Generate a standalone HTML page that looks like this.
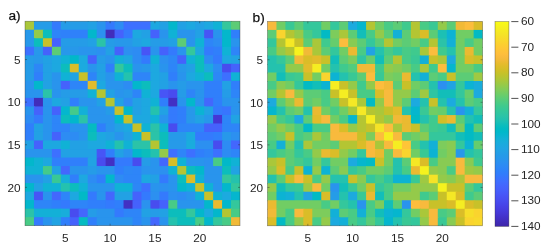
<!DOCTYPE html>
<html><head><meta charset="utf-8"><title>figure</title>
<style>
html,body{margin:0;padding:0;background:#fff;}
body{width:550px;height:251px;overflow:hidden;}
svg{display:block;}
.t{font-family:"Liberation Sans",sans-serif;font-size:11.8px;fill:#262626;}
.l{font-family:"Liberation Sans",sans-serif;font-size:13.7px;fill:#111;stroke:#111;stroke-width:0.25px;}
</style></head><body>
<svg width="550" height="251" viewBox="0 0 550 251">
<rect width="550" height="251" fill="#fff"/>
<text transform="translate(8.4 19.7)" class="l">a)</text>
<text transform="translate(252.6 21.6)" class="l">b)</text>
<g>
<rect x="25.00" y="21.20" width="9.96" height="9.52" fill="#aac73a"/>
<rect x="33.96" y="21.20" width="18.92" height="9.52" fill="#259ce7"/>
<rect x="51.88" y="21.20" width="9.96" height="9.52" fill="#347afd"/>
<rect x="60.83" y="21.20" width="27.88" height="9.52" fill="#259ce7"/>
<rect x="87.71" y="21.20" width="9.96" height="9.52" fill="#22a1e4"/>
<rect x="96.67" y="21.20" width="9.96" height="9.52" fill="#2994ed"/>
<rect x="105.62" y="21.20" width="9.96" height="9.52" fill="#347afd"/>
<rect x="114.58" y="21.20" width="9.96" height="9.52" fill="#2d8cf3"/>
<rect x="123.54" y="21.20" width="27.88" height="9.52" fill="#3d70ff"/>
<rect x="150.42" y="21.20" width="9.96" height="9.52" fill="#1da8e0"/>
<rect x="159.38" y="21.20" width="9.96" height="9.52" fill="#22a1e4"/>
<rect x="168.33" y="21.20" width="9.96" height="9.52" fill="#03b7cb"/>
<rect x="177.29" y="21.20" width="9.96" height="9.52" fill="#22a1e4"/>
<rect x="186.25" y="21.20" width="9.96" height="9.52" fill="#1da8e0"/>
<rect x="195.21" y="21.20" width="9.96" height="9.52" fill="#22a1e4"/>
<rect x="204.17" y="21.20" width="9.96" height="9.52" fill="#1da8e0"/>
<rect x="213.12" y="21.20" width="9.96" height="9.52" fill="#10b2d5"/>
<rect x="222.08" y="21.20" width="9.96" height="9.52" fill="#34c79c"/>
<rect x="231.04" y="21.20" width="8.96" height="9.52" fill="#5ccc76"/>
<rect x="25.00" y="29.72" width="9.96" height="9.52" fill="#2798ea"/>
<rect x="33.96" y="29.72" width="9.96" height="9.52" fill="#94ca4a"/>
<rect x="42.92" y="29.72" width="9.96" height="9.52" fill="#0cbdbc"/>
<rect x="51.88" y="29.72" width="9.96" height="9.52" fill="#2e85f8"/>
<rect x="60.83" y="29.72" width="27.88" height="9.52" fill="#2f81fa"/>
<rect x="87.71" y="29.72" width="9.96" height="9.52" fill="#03b7cb"/>
<rect x="96.67" y="29.72" width="9.96" height="9.52" fill="#2c90f0"/>
<rect x="105.62" y="29.72" width="9.96" height="9.52" fill="#412dbb"/>
<rect x="114.58" y="29.72" width="9.96" height="9.52" fill="#4562fc"/>
<rect x="123.54" y="29.72" width="9.96" height="9.52" fill="#347afd"/>
<rect x="132.50" y="29.72" width="9.96" height="9.52" fill="#1da8e0"/>
<rect x="141.46" y="29.72" width="9.96" height="9.52" fill="#22a1e4"/>
<rect x="150.42" y="29.72" width="9.96" height="9.52" fill="#4562fc"/>
<rect x="159.38" y="29.72" width="9.96" height="9.52" fill="#2994ed"/>
<rect x="168.33" y="29.72" width="9.96" height="9.52" fill="#10b2d5"/>
<rect x="177.29" y="29.72" width="18.92" height="9.52" fill="#2994ed"/>
<rect x="195.21" y="29.72" width="9.96" height="9.52" fill="#22a1e4"/>
<rect x="204.17" y="29.72" width="9.96" height="9.52" fill="#4755f6"/>
<rect x="213.12" y="29.72" width="9.96" height="9.52" fill="#2994ed"/>
<rect x="222.08" y="29.72" width="9.96" height="9.52" fill="#03b7cb"/>
<rect x="231.04" y="29.72" width="8.96" height="9.52" fill="#307ffb"/>
<rect x="25.00" y="38.24" width="9.96" height="9.52" fill="#2798ea"/>
<rect x="33.96" y="38.24" width="9.96" height="9.52" fill="#0cbdbc"/>
<rect x="42.92" y="38.24" width="9.96" height="9.52" fill="#c8c129"/>
<rect x="51.88" y="38.24" width="9.96" height="9.52" fill="#4562fc"/>
<rect x="60.83" y="38.24" width="27.88" height="9.52" fill="#259ce7"/>
<rect x="87.71" y="38.24" width="9.96" height="9.52" fill="#22a1e4"/>
<rect x="96.67" y="38.24" width="9.96" height="9.52" fill="#2bc3a8"/>
<rect x="105.62" y="38.24" width="9.96" height="9.52" fill="#259ce7"/>
<rect x="114.58" y="38.24" width="18.92" height="9.52" fill="#2798ea"/>
<rect x="132.50" y="38.24" width="9.96" height="9.52" fill="#22a1e4"/>
<rect x="141.46" y="38.24" width="9.96" height="9.52" fill="#1da8e0"/>
<rect x="150.42" y="38.24" width="18.92" height="9.52" fill="#259ce7"/>
<rect x="168.33" y="38.24" width="9.96" height="9.52" fill="#22a1e4"/>
<rect x="177.29" y="38.24" width="9.96" height="9.52" fill="#5ccc76"/>
<rect x="186.25" y="38.24" width="9.96" height="9.52" fill="#2994ed"/>
<rect x="195.21" y="38.24" width="9.96" height="9.52" fill="#10b2d5"/>
<rect x="204.17" y="38.24" width="9.96" height="9.52" fill="#2e85f8"/>
<rect x="213.12" y="38.24" width="9.96" height="9.52" fill="#2d8cf3"/>
<rect x="222.08" y="38.24" width="9.96" height="9.52" fill="#03b7cb"/>
<rect x="231.04" y="38.24" width="8.96" height="9.52" fill="#2994ed"/>
<rect x="25.00" y="46.76" width="9.96" height="9.52" fill="#3d70ff"/>
<rect x="33.96" y="46.76" width="9.96" height="9.52" fill="#2798ea"/>
<rect x="42.92" y="46.76" width="9.96" height="9.52" fill="#4562fc"/>
<rect x="51.88" y="46.76" width="9.96" height="9.52" fill="#5ccc76"/>
<rect x="60.83" y="46.76" width="18.92" height="9.52" fill="#2798ea"/>
<rect x="78.75" y="46.76" width="18.92" height="9.52" fill="#2994ed"/>
<rect x="96.67" y="46.76" width="9.96" height="9.52" fill="#2c90f0"/>
<rect x="105.62" y="46.76" width="9.96" height="9.52" fill="#22a1e4"/>
<rect x="114.58" y="46.76" width="9.96" height="9.52" fill="#4562fc"/>
<rect x="123.54" y="46.76" width="9.96" height="9.52" fill="#2c90f0"/>
<rect x="132.50" y="46.76" width="9.96" height="9.52" fill="#2d8cf3"/>
<rect x="141.46" y="46.76" width="9.96" height="9.52" fill="#4755f6"/>
<rect x="150.42" y="46.76" width="9.96" height="9.52" fill="#2994ed"/>
<rect x="159.38" y="46.76" width="9.96" height="9.52" fill="#4562fc"/>
<rect x="168.33" y="46.76" width="9.96" height="9.52" fill="#347afd"/>
<rect x="177.29" y="46.76" width="9.96" height="9.52" fill="#2994ed"/>
<rect x="186.25" y="46.76" width="9.96" height="9.52" fill="#34c79c"/>
<rect x="195.21" y="46.76" width="9.96" height="9.52" fill="#1da8e0"/>
<rect x="204.17" y="46.76" width="9.96" height="9.52" fill="#347afd"/>
<rect x="213.12" y="46.76" width="9.96" height="9.52" fill="#307ffb"/>
<rect x="222.08" y="46.76" width="9.96" height="9.52" fill="#10b2d5"/>
<rect x="231.04" y="46.76" width="8.96" height="9.52" fill="#2e85f8"/>
<rect x="25.00" y="55.28" width="9.96" height="9.52" fill="#259ce7"/>
<rect x="33.96" y="55.28" width="9.96" height="9.52" fill="#2798ea"/>
<rect x="42.92" y="55.28" width="9.96" height="9.52" fill="#22a1e4"/>
<rect x="51.88" y="55.28" width="9.96" height="9.52" fill="#1da8e0"/>
<rect x="60.83" y="55.28" width="9.96" height="9.52" fill="#10b2d5"/>
<rect x="69.79" y="55.28" width="9.96" height="9.52" fill="#01b8c9"/>
<rect x="78.75" y="55.28" width="9.96" height="9.52" fill="#1caadf"/>
<rect x="87.71" y="55.28" width="9.96" height="9.52" fill="#4562fc"/>
<rect x="96.67" y="55.28" width="9.96" height="9.52" fill="#259ce7"/>
<rect x="105.62" y="55.28" width="9.96" height="9.52" fill="#2994ed"/>
<rect x="114.58" y="55.28" width="9.96" height="9.52" fill="#13b0d7"/>
<rect x="123.54" y="55.28" width="9.96" height="9.52" fill="#1ea7e1"/>
<rect x="132.50" y="55.28" width="9.96" height="9.52" fill="#2d8cf3"/>
<rect x="141.46" y="55.28" width="9.96" height="9.52" fill="#347afd"/>
<rect x="150.42" y="55.28" width="9.96" height="9.52" fill="#10b2d5"/>
<rect x="159.38" y="55.28" width="9.96" height="9.52" fill="#2c90f0"/>
<rect x="168.33" y="55.28" width="9.96" height="9.52" fill="#2d87f6"/>
<rect x="177.29" y="55.28" width="9.96" height="9.52" fill="#4562fc"/>
<rect x="186.25" y="55.28" width="9.96" height="9.52" fill="#10b2d5"/>
<rect x="195.21" y="55.28" width="9.96" height="9.52" fill="#0cbdbc"/>
<rect x="204.17" y="55.28" width="9.96" height="9.52" fill="#2d8cf3"/>
<rect x="213.12" y="55.28" width="9.96" height="9.52" fill="#347afd"/>
<rect x="222.08" y="55.28" width="9.96" height="9.52" fill="#1da8e0"/>
<rect x="231.04" y="55.28" width="8.96" height="9.52" fill="#21a3e3"/>
<rect x="25.00" y="63.80" width="9.96" height="9.52" fill="#259ce7"/>
<rect x="33.96" y="63.80" width="9.96" height="9.52" fill="#2d87f6"/>
<rect x="42.92" y="63.80" width="9.96" height="9.52" fill="#22a1e4"/>
<rect x="51.88" y="63.80" width="9.96" height="9.52" fill="#1da8e0"/>
<rect x="60.83" y="63.80" width="9.96" height="9.52" fill="#0cbdbc"/>
<rect x="69.79" y="63.80" width="9.96" height="9.52" fill="#dabd28"/>
<rect x="78.75" y="63.80" width="9.96" height="9.52" fill="#1caadf"/>
<rect x="87.71" y="63.80" width="9.96" height="9.52" fill="#2994ed"/>
<rect x="96.67" y="63.80" width="9.96" height="9.52" fill="#22a1e4"/>
<rect x="105.62" y="63.80" width="9.96" height="9.52" fill="#307ffb"/>
<rect x="114.58" y="63.80" width="9.96" height="9.52" fill="#34c79c"/>
<rect x="123.54" y="63.80" width="9.96" height="9.52" fill="#0cbdbc"/>
<rect x="132.50" y="63.80" width="9.96" height="9.52" fill="#2994ed"/>
<rect x="141.46" y="63.80" width="9.96" height="9.52" fill="#2798ea"/>
<rect x="150.42" y="63.80" width="9.96" height="9.52" fill="#1da8e0"/>
<rect x="159.38" y="63.80" width="9.96" height="9.52" fill="#2994ed"/>
<rect x="168.33" y="63.80" width="9.96" height="9.52" fill="#2e85f8"/>
<rect x="177.29" y="63.80" width="9.96" height="9.52" fill="#2798ea"/>
<rect x="186.25" y="63.80" width="9.96" height="9.52" fill="#22a1e4"/>
<rect x="195.21" y="63.80" width="9.96" height="9.52" fill="#0cbdbc"/>
<rect x="204.17" y="63.80" width="9.96" height="9.52" fill="#1da8e0"/>
<rect x="213.12" y="63.80" width="9.96" height="9.52" fill="#2d8cf3"/>
<rect x="222.08" y="63.80" width="9.96" height="9.52" fill="#484cef"/>
<rect x="231.04" y="63.80" width="8.96" height="9.52" fill="#4562fc"/>
<rect x="25.00" y="72.33" width="9.96" height="9.52" fill="#259ce7"/>
<rect x="33.96" y="72.33" width="9.96" height="9.52" fill="#307ffb"/>
<rect x="42.92" y="72.33" width="9.96" height="9.52" fill="#22a1e4"/>
<rect x="51.88" y="72.33" width="9.96" height="9.52" fill="#2994ed"/>
<rect x="60.83" y="72.33" width="9.96" height="9.52" fill="#10b2d5"/>
<rect x="69.79" y="72.33" width="9.96" height="9.52" fill="#21a3e3"/>
<rect x="78.75" y="72.33" width="9.96" height="9.52" fill="#c8c129"/>
<rect x="87.71" y="72.33" width="9.96" height="9.52" fill="#2e85f8"/>
<rect x="96.67" y="72.33" width="9.96" height="9.52" fill="#22a1e4"/>
<rect x="105.62" y="72.33" width="9.96" height="9.52" fill="#2994ed"/>
<rect x="114.58" y="72.33" width="9.96" height="9.52" fill="#10b2d5"/>
<rect x="123.54" y="72.33" width="9.96" height="9.52" fill="#24c2ae"/>
<rect x="132.50" y="72.33" width="18.92" height="9.52" fill="#2e85f8"/>
<rect x="150.42" y="72.33" width="9.96" height="9.52" fill="#1da8e0"/>
<rect x="159.38" y="72.33" width="9.96" height="9.52" fill="#22a1e4"/>
<rect x="168.33" y="72.33" width="9.96" height="9.52" fill="#307ffb"/>
<rect x="177.29" y="72.33" width="9.96" height="9.52" fill="#2994ed"/>
<rect x="186.25" y="72.33" width="9.96" height="9.52" fill="#1da8e0"/>
<rect x="195.21" y="72.33" width="9.96" height="9.52" fill="#10b2d5"/>
<rect x="204.17" y="72.33" width="9.96" height="9.52" fill="#0cbdbc"/>
<rect x="213.12" y="72.33" width="9.96" height="9.52" fill="#2d87f6"/>
<rect x="222.08" y="72.33" width="9.96" height="9.52" fill="#3d70ff"/>
<rect x="231.04" y="72.33" width="8.96" height="9.52" fill="#10b2d5"/>
<rect x="25.00" y="80.85" width="9.96" height="9.52" fill="#2994ed"/>
<rect x="33.96" y="80.85" width="9.96" height="9.52" fill="#03b7cb"/>
<rect x="42.92" y="80.85" width="9.96" height="9.52" fill="#22a1e4"/>
<rect x="51.88" y="80.85" width="9.96" height="9.52" fill="#2994ed"/>
<rect x="60.83" y="80.85" width="9.96" height="9.52" fill="#4562fc"/>
<rect x="69.79" y="80.85" width="18.92" height="9.52" fill="#2e85f8"/>
<rect x="87.71" y="80.85" width="9.96" height="9.52" fill="#e2bc2b"/>
<rect x="96.67" y="80.85" width="9.96" height="9.52" fill="#1da8e0"/>
<rect x="105.62" y="80.85" width="18.92" height="9.52" fill="#2994ed"/>
<rect x="123.54" y="80.85" width="9.96" height="9.52" fill="#2d8cf3"/>
<rect x="132.50" y="80.85" width="9.96" height="9.52" fill="#03b7cb"/>
<rect x="141.46" y="80.85" width="9.96" height="9.52" fill="#0cbdbc"/>
<rect x="150.42" y="80.85" width="9.96" height="9.52" fill="#1da8e0"/>
<rect x="159.38" y="80.85" width="9.96" height="9.52" fill="#22a1e4"/>
<rect x="168.33" y="80.85" width="9.96" height="9.52" fill="#2994ed"/>
<rect x="177.29" y="80.85" width="9.96" height="9.52" fill="#259ce7"/>
<rect x="186.25" y="80.85" width="18.92" height="9.52" fill="#2994ed"/>
<rect x="204.17" y="80.85" width="18.92" height="9.52" fill="#307ffb"/>
<rect x="222.08" y="80.85" width="9.96" height="9.52" fill="#22a1e4"/>
<rect x="231.04" y="80.85" width="8.96" height="9.52" fill="#307ffb"/>
<rect x="25.00" y="89.37" width="18.92" height="9.52" fill="#2994ed"/>
<rect x="42.92" y="89.37" width="9.96" height="9.52" fill="#2bc3a8"/>
<rect x="51.88" y="89.37" width="9.96" height="9.52" fill="#2994ed"/>
<rect x="60.83" y="89.37" width="27.88" height="9.52" fill="#259ce7"/>
<rect x="87.71" y="89.37" width="9.96" height="9.52" fill="#10b2d5"/>
<rect x="96.67" y="89.37" width="9.96" height="9.52" fill="#b4c533"/>
<rect x="105.62" y="89.37" width="9.96" height="9.52" fill="#22a1e4"/>
<rect x="114.58" y="89.37" width="9.96" height="9.52" fill="#2994ed"/>
<rect x="123.54" y="89.37" width="9.96" height="9.52" fill="#2798ea"/>
<rect x="132.50" y="89.37" width="9.96" height="9.52" fill="#2e85f8"/>
<rect x="141.46" y="89.37" width="9.96" height="9.52" fill="#10b2d5"/>
<rect x="150.42" y="89.37" width="9.96" height="9.52" fill="#1da8e0"/>
<rect x="159.38" y="89.37" width="9.96" height="9.52" fill="#4755f6"/>
<rect x="168.33" y="89.37" width="9.96" height="9.52" fill="#484cef"/>
<rect x="177.29" y="89.37" width="9.96" height="9.52" fill="#259ce7"/>
<rect x="186.25" y="89.37" width="9.96" height="9.52" fill="#2e85f8"/>
<rect x="195.21" y="89.37" width="9.96" height="9.52" fill="#2994ed"/>
<rect x="204.17" y="89.37" width="18.92" height="9.52" fill="#307ffb"/>
<rect x="222.08" y="89.37" width="9.96" height="9.52" fill="#259ce7"/>
<rect x="231.04" y="89.37" width="8.96" height="9.52" fill="#2e85f8"/>
<rect x="25.00" y="97.89" width="9.96" height="9.52" fill="#3d70ff"/>
<rect x="33.96" y="97.89" width="9.96" height="9.52" fill="#412dbb"/>
<rect x="42.92" y="97.89" width="9.96" height="9.52" fill="#2994ed"/>
<rect x="51.88" y="97.89" width="9.96" height="9.52" fill="#1da8e0"/>
<rect x="60.83" y="97.89" width="9.96" height="9.52" fill="#22a1e4"/>
<rect x="69.79" y="97.89" width="9.96" height="9.52" fill="#307ffb"/>
<rect x="78.75" y="97.89" width="18.92" height="9.52" fill="#2994ed"/>
<rect x="96.67" y="97.89" width="9.96" height="9.52" fill="#22a1e4"/>
<rect x="105.62" y="97.89" width="9.96" height="9.52" fill="#b4c533"/>
<rect x="114.58" y="97.89" width="9.96" height="9.52" fill="#22a1e4"/>
<rect x="123.54" y="97.89" width="9.96" height="9.52" fill="#2d8cf3"/>
<rect x="132.50" y="97.89" width="9.96" height="9.52" fill="#22a1e4"/>
<rect x="141.46" y="97.89" width="9.96" height="9.52" fill="#1da8e0"/>
<rect x="150.42" y="97.89" width="9.96" height="9.52" fill="#10b2d5"/>
<rect x="159.38" y="97.89" width="9.96" height="9.52" fill="#307ffb"/>
<rect x="168.33" y="97.89" width="9.96" height="9.52" fill="#4230c4"/>
<rect x="177.29" y="97.89" width="9.96" height="9.52" fill="#2994ed"/>
<rect x="186.25" y="97.89" width="9.96" height="9.52" fill="#03b7cb"/>
<rect x="195.21" y="97.89" width="9.96" height="9.52" fill="#2994ed"/>
<rect x="204.17" y="97.89" width="9.96" height="9.52" fill="#4367fd"/>
<rect x="213.12" y="97.89" width="9.96" height="9.52" fill="#307ffb"/>
<rect x="222.08" y="97.89" width="17.92" height="9.52" fill="#2994ed"/>
<rect x="25.00" y="106.41" width="9.96" height="9.52" fill="#2994ed"/>
<rect x="33.96" y="106.41" width="9.96" height="9.52" fill="#4562fc"/>
<rect x="42.92" y="106.41" width="9.96" height="9.52" fill="#2994ed"/>
<rect x="51.88" y="106.41" width="9.96" height="9.52" fill="#4562fc"/>
<rect x="60.83" y="106.41" width="9.96" height="9.52" fill="#05b6ce"/>
<rect x="69.79" y="106.41" width="9.96" height="9.52" fill="#44ca8a"/>
<rect x="78.75" y="106.41" width="9.96" height="9.52" fill="#13b0d7"/>
<rect x="87.71" y="106.41" width="18.92" height="9.52" fill="#2994ed"/>
<rect x="105.62" y="106.41" width="9.96" height="9.52" fill="#259ce7"/>
<rect x="114.58" y="106.41" width="9.96" height="9.52" fill="#c8c129"/>
<rect x="123.54" y="106.41" width="9.96" height="9.52" fill="#03b7cb"/>
<rect x="132.50" y="106.41" width="9.96" height="9.52" fill="#22a1e4"/>
<rect x="141.46" y="106.41" width="9.96" height="9.52" fill="#1da8e0"/>
<rect x="150.42" y="106.41" width="9.96" height="9.52" fill="#24c2ae"/>
<rect x="159.38" y="106.41" width="9.96" height="9.52" fill="#22a1e4"/>
<rect x="168.33" y="106.41" width="9.96" height="9.52" fill="#347afd"/>
<rect x="177.29" y="106.41" width="9.96" height="9.52" fill="#307ffb"/>
<rect x="186.25" y="106.41" width="9.96" height="9.52" fill="#2798ea"/>
<rect x="195.21" y="106.41" width="9.96" height="9.52" fill="#0cb3d3"/>
<rect x="204.17" y="106.41" width="9.96" height="9.52" fill="#21a3e3"/>
<rect x="213.12" y="106.41" width="9.96" height="9.52" fill="#347afd"/>
<rect x="222.08" y="106.41" width="9.96" height="9.52" fill="#3875fe"/>
<rect x="231.04" y="106.41" width="8.96" height="9.52" fill="#2994ed"/>
<rect x="25.00" y="114.93" width="9.96" height="9.52" fill="#2d8cf3"/>
<rect x="33.96" y="114.93" width="9.96" height="9.52" fill="#347afd"/>
<rect x="42.92" y="114.93" width="9.96" height="9.52" fill="#2994ed"/>
<rect x="51.88" y="114.93" width="9.96" height="9.52" fill="#2e85f8"/>
<rect x="60.83" y="114.93" width="9.96" height="9.52" fill="#0cbdbc"/>
<rect x="69.79" y="114.93" width="9.96" height="9.52" fill="#03b7cb"/>
<rect x="78.75" y="114.93" width="9.96" height="9.52" fill="#2bc3a8"/>
<rect x="87.71" y="114.93" width="27.88" height="9.52" fill="#2994ed"/>
<rect x="114.58" y="114.93" width="9.96" height="9.52" fill="#03b7cb"/>
<rect x="123.54" y="114.93" width="9.96" height="9.52" fill="#c8c129"/>
<rect x="132.50" y="114.93" width="18.92" height="9.52" fill="#1da8e0"/>
<rect x="150.42" y="114.93" width="9.96" height="9.52" fill="#10b2d5"/>
<rect x="159.38" y="114.93" width="9.96" height="9.52" fill="#2994ed"/>
<rect x="168.33" y="114.93" width="9.96" height="9.52" fill="#347afd"/>
<rect x="177.29" y="114.93" width="9.96" height="9.52" fill="#307ffb"/>
<rect x="186.25" y="114.93" width="9.96" height="9.52" fill="#2798ea"/>
<rect x="195.21" y="114.93" width="9.96" height="9.52" fill="#21a3e3"/>
<rect x="204.17" y="114.93" width="9.96" height="9.52" fill="#2798ea"/>
<rect x="213.12" y="114.93" width="9.96" height="9.52" fill="#4536d5"/>
<rect x="222.08" y="114.93" width="9.96" height="9.52" fill="#2e85f8"/>
<rect x="231.04" y="114.93" width="8.96" height="9.52" fill="#21a3e3"/>
<rect x="25.00" y="123.45" width="9.96" height="9.52" fill="#307ffb"/>
<rect x="33.96" y="123.45" width="9.96" height="9.52" fill="#22a1e4"/>
<rect x="42.92" y="123.45" width="9.96" height="9.52" fill="#2994ed"/>
<rect x="51.88" y="123.45" width="18.92" height="9.52" fill="#2e85f8"/>
<rect x="69.79" y="123.45" width="18.92" height="9.52" fill="#2994ed"/>
<rect x="87.71" y="123.45" width="9.96" height="9.52" fill="#05bbc1"/>
<rect x="96.67" y="123.45" width="9.96" height="9.52" fill="#307ffb"/>
<rect x="105.62" y="123.45" width="9.96" height="9.52" fill="#2994ed"/>
<rect x="114.58" y="123.45" width="9.96" height="9.52" fill="#22a1e4"/>
<rect x="123.54" y="123.45" width="9.96" height="9.52" fill="#1da8e0"/>
<rect x="132.50" y="123.45" width="9.96" height="9.52" fill="#c8c129"/>
<rect x="141.46" y="123.45" width="9.96" height="9.52" fill="#10b2d5"/>
<rect x="150.42" y="123.45" width="9.96" height="9.52" fill="#2bc3a8"/>
<rect x="159.38" y="123.45" width="9.96" height="9.52" fill="#10b2d5"/>
<rect x="168.33" y="123.45" width="9.96" height="9.52" fill="#484cef"/>
<rect x="177.29" y="123.45" width="27.88" height="9.52" fill="#2e85f8"/>
<rect x="204.17" y="123.45" width="18.92" height="9.52" fill="#4562fc"/>
<rect x="222.08" y="123.45" width="17.92" height="9.52" fill="#2e85f8"/>
<rect x="25.00" y="131.97" width="9.96" height="9.52" fill="#307ffb"/>
<rect x="33.96" y="131.97" width="9.96" height="9.52" fill="#22a1e4"/>
<rect x="42.92" y="131.97" width="9.96" height="9.52" fill="#2994ed"/>
<rect x="51.88" y="131.97" width="9.96" height="9.52" fill="#4562fc"/>
<rect x="60.83" y="131.97" width="18.92" height="9.52" fill="#2d8cf3"/>
<rect x="78.75" y="131.97" width="9.96" height="9.52" fill="#2994ed"/>
<rect x="87.71" y="131.97" width="9.96" height="9.52" fill="#0cbdbc"/>
<rect x="96.67" y="131.97" width="9.96" height="9.52" fill="#1da8e0"/>
<rect x="105.62" y="131.97" width="9.96" height="9.52" fill="#22a1e4"/>
<rect x="114.58" y="131.97" width="9.96" height="9.52" fill="#2994ed"/>
<rect x="123.54" y="131.97" width="9.96" height="9.52" fill="#22a1e4"/>
<rect x="132.50" y="131.97" width="9.96" height="9.52" fill="#10b2d5"/>
<rect x="141.46" y="131.97" width="9.96" height="9.52" fill="#c8c129"/>
<rect x="150.42" y="131.97" width="9.96" height="9.52" fill="#2bc3a8"/>
<rect x="159.38" y="131.97" width="9.96" height="9.52" fill="#0cbdbc"/>
<rect x="168.33" y="131.97" width="18.92" height="9.52" fill="#269ae9"/>
<rect x="186.25" y="131.97" width="9.96" height="9.52" fill="#1caadf"/>
<rect x="195.21" y="131.97" width="18.92" height="9.52" fill="#347afd"/>
<rect x="213.12" y="131.97" width="9.96" height="9.52" fill="#307ffb"/>
<rect x="222.08" y="131.97" width="9.96" height="9.52" fill="#2798ea"/>
<rect x="231.04" y="131.97" width="8.96" height="9.52" fill="#2c90f0"/>
<rect x="25.00" y="140.49" width="9.96" height="9.52" fill="#22a1e4"/>
<rect x="33.96" y="140.49" width="9.96" height="9.52" fill="#4562fc"/>
<rect x="42.92" y="140.49" width="18.92" height="9.52" fill="#1da8e0"/>
<rect x="60.83" y="140.49" width="9.96" height="9.52" fill="#10b2d5"/>
<rect x="69.79" y="140.49" width="18.92" height="9.52" fill="#22a1e4"/>
<rect x="87.71" y="140.49" width="18.92" height="9.52" fill="#1da8e0"/>
<rect x="105.62" y="140.49" width="9.96" height="9.52" fill="#10b2d5"/>
<rect x="114.58" y="140.49" width="9.96" height="9.52" fill="#24c2ae"/>
<rect x="123.54" y="140.49" width="9.96" height="9.52" fill="#10b2d5"/>
<rect x="132.50" y="140.49" width="18.92" height="9.52" fill="#2bc3a8"/>
<rect x="150.42" y="140.49" width="9.96" height="9.52" fill="#b4c533"/>
<rect x="159.38" y="140.49" width="9.96" height="9.52" fill="#0cbdbc"/>
<rect x="168.33" y="140.49" width="18.92" height="9.52" fill="#269ae9"/>
<rect x="186.25" y="140.49" width="9.96" height="9.52" fill="#1aacdd"/>
<rect x="195.21" y="140.49" width="18.92" height="9.52" fill="#2c90f0"/>
<rect x="213.12" y="140.49" width="9.96" height="9.52" fill="#484cef"/>
<rect x="222.08" y="140.49" width="9.96" height="9.52" fill="#2d8cf3"/>
<rect x="231.04" y="140.49" width="8.96" height="9.52" fill="#4367fd"/>
<rect x="25.00" y="149.01" width="27.88" height="9.52" fill="#2994ed"/>
<rect x="51.88" y="149.01" width="9.96" height="9.52" fill="#3d70ff"/>
<rect x="60.83" y="149.01" width="36.83" height="9.52" fill="#22a1e4"/>
<rect x="96.67" y="149.01" width="9.96" height="9.52" fill="#4755f6"/>
<rect x="105.62" y="149.01" width="9.96" height="9.52" fill="#307ffb"/>
<rect x="114.58" y="149.01" width="9.96" height="9.52" fill="#22a1e4"/>
<rect x="123.54" y="149.01" width="9.96" height="9.52" fill="#2994ed"/>
<rect x="132.50" y="149.01" width="9.96" height="9.52" fill="#03b7cb"/>
<rect x="141.46" y="149.01" width="9.96" height="9.52" fill="#0cbdbc"/>
<rect x="150.42" y="149.01" width="9.96" height="9.52" fill="#24c2ae"/>
<rect x="159.38" y="149.01" width="9.96" height="9.52" fill="#94ca4a"/>
<rect x="168.33" y="149.01" width="9.96" height="9.52" fill="#3d70ff"/>
<rect x="177.29" y="149.01" width="9.96" height="9.52" fill="#2e85f8"/>
<rect x="186.25" y="149.01" width="9.96" height="9.52" fill="#3d70ff"/>
<rect x="195.21" y="149.01" width="9.96" height="9.52" fill="#307ffb"/>
<rect x="204.17" y="149.01" width="9.96" height="9.52" fill="#2e85f8"/>
<rect x="213.12" y="149.01" width="9.96" height="9.52" fill="#3d70ff"/>
<rect x="222.08" y="149.01" width="9.96" height="9.52" fill="#2d8cf3"/>
<rect x="231.04" y="149.01" width="8.96" height="9.52" fill="#2e85f8"/>
<rect x="25.00" y="157.53" width="9.96" height="9.52" fill="#03b7cb"/>
<rect x="33.96" y="157.53" width="9.96" height="9.52" fill="#10b2d5"/>
<rect x="42.92" y="157.53" width="9.96" height="9.52" fill="#1da8e0"/>
<rect x="51.88" y="157.53" width="36.83" height="9.52" fill="#307ffb"/>
<rect x="87.71" y="157.53" width="9.96" height="9.52" fill="#21a3e3"/>
<rect x="96.67" y="157.53" width="9.96" height="9.52" fill="#484cef"/>
<rect x="105.62" y="157.53" width="9.96" height="9.52" fill="#4230c4"/>
<rect x="114.58" y="157.53" width="18.92" height="9.52" fill="#347afd"/>
<rect x="132.50" y="157.53" width="9.96" height="9.52" fill="#484cef"/>
<rect x="141.46" y="157.53" width="9.96" height="9.52" fill="#259ce7"/>
<rect x="150.42" y="157.53" width="9.96" height="9.52" fill="#2994ed"/>
<rect x="159.38" y="157.53" width="9.96" height="9.52" fill="#4367fd"/>
<rect x="168.33" y="157.53" width="9.96" height="9.52" fill="#d6be28"/>
<rect x="177.29" y="157.53" width="9.96" height="9.52" fill="#10b2d5"/>
<rect x="186.25" y="157.53" width="18.92" height="9.52" fill="#2994ed"/>
<rect x="204.17" y="157.53" width="9.96" height="9.52" fill="#2c90f0"/>
<rect x="213.12" y="157.53" width="9.96" height="9.52" fill="#48cb86"/>
<rect x="222.08" y="157.53" width="9.96" height="9.52" fill="#01b8c9"/>
<rect x="231.04" y="157.53" width="8.96" height="9.52" fill="#10b2d5"/>
<rect x="25.00" y="166.05" width="18.92" height="9.52" fill="#10b2d5"/>
<rect x="42.92" y="166.05" width="9.96" height="9.52" fill="#44ca8a"/>
<rect x="51.88" y="166.05" width="9.96" height="9.52" fill="#22a1e4"/>
<rect x="60.83" y="166.05" width="9.96" height="9.52" fill="#4367fd"/>
<rect x="69.79" y="166.05" width="18.92" height="9.52" fill="#2994ed"/>
<rect x="87.71" y="166.05" width="9.96" height="9.52" fill="#259ce7"/>
<rect x="96.67" y="166.05" width="18.92" height="9.52" fill="#2994ed"/>
<rect x="114.58" y="166.05" width="9.96" height="9.52" fill="#307ffb"/>
<rect x="123.54" y="166.05" width="9.96" height="9.52" fill="#2d87f6"/>
<rect x="132.50" y="166.05" width="9.96" height="9.52" fill="#2e85f8"/>
<rect x="141.46" y="166.05" width="18.92" height="9.52" fill="#2994ed"/>
<rect x="159.38" y="166.05" width="9.96" height="9.52" fill="#2c90f0"/>
<rect x="168.33" y="166.05" width="9.96" height="9.52" fill="#10b2d5"/>
<rect x="177.29" y="166.05" width="9.96" height="9.52" fill="#b4c533"/>
<rect x="186.25" y="166.05" width="9.96" height="9.52" fill="#0cbdbc"/>
<rect x="195.21" y="166.05" width="9.96" height="9.52" fill="#03b7cb"/>
<rect x="204.17" y="166.05" width="18.92" height="9.52" fill="#2994ed"/>
<rect x="222.08" y="166.05" width="9.96" height="9.52" fill="#0cbdbc"/>
<rect x="231.04" y="166.05" width="8.96" height="9.52" fill="#21a3e3"/>
<rect x="25.00" y="174.57" width="18.92" height="9.52" fill="#2994ed"/>
<rect x="42.92" y="174.57" width="9.96" height="9.52" fill="#22a1e4"/>
<rect x="51.88" y="174.57" width="9.96" height="9.52" fill="#39c895"/>
<rect x="60.83" y="174.57" width="9.96" height="9.52" fill="#16afd9"/>
<rect x="69.79" y="174.57" width="9.96" height="9.52" fill="#307ffb"/>
<rect x="78.75" y="174.57" width="9.96" height="9.52" fill="#1da8e0"/>
<rect x="87.71" y="174.57" width="9.96" height="9.52" fill="#2d8cf3"/>
<rect x="96.67" y="174.57" width="9.96" height="9.52" fill="#307ffb"/>
<rect x="105.62" y="174.57" width="9.96" height="9.52" fill="#03b7cb"/>
<rect x="114.58" y="174.57" width="9.96" height="9.52" fill="#2d8cf3"/>
<rect x="123.54" y="174.57" width="18.92" height="9.52" fill="#2e85f8"/>
<rect x="141.46" y="174.57" width="9.96" height="9.52" fill="#1da8e0"/>
<rect x="150.42" y="174.57" width="9.96" height="9.52" fill="#22a1e4"/>
<rect x="159.38" y="174.57" width="9.96" height="9.52" fill="#347afd"/>
<rect x="168.33" y="174.57" width="9.96" height="9.52" fill="#2994ed"/>
<rect x="177.29" y="174.57" width="9.96" height="9.52" fill="#0cbdbc"/>
<rect x="186.25" y="174.57" width="9.96" height="9.52" fill="#dabd28"/>
<rect x="195.21" y="174.57" width="9.96" height="9.52" fill="#10b2d5"/>
<rect x="204.17" y="174.57" width="18.92" height="9.52" fill="#2994ed"/>
<rect x="222.08" y="174.57" width="9.96" height="9.52" fill="#34c79c"/>
<rect x="231.04" y="174.57" width="8.96" height="9.52" fill="#24c2ae"/>
<rect x="25.00" y="183.10" width="9.96" height="9.52" fill="#03b7cb"/>
<rect x="33.96" y="183.10" width="9.96" height="9.52" fill="#22a1e4"/>
<rect x="42.92" y="183.10" width="18.92" height="9.52" fill="#10b2d5"/>
<rect x="60.83" y="183.10" width="9.96" height="9.52" fill="#24c2ae"/>
<rect x="69.79" y="183.10" width="9.96" height="9.52" fill="#0cbdbc"/>
<rect x="78.75" y="183.10" width="9.96" height="9.52" fill="#10b2d5"/>
<rect x="87.71" y="183.10" width="27.88" height="9.52" fill="#2994ed"/>
<rect x="114.58" y="183.10" width="18.92" height="9.52" fill="#10b2d5"/>
<rect x="132.50" y="183.10" width="9.96" height="9.52" fill="#2d87f6"/>
<rect x="141.46" y="183.10" width="9.96" height="9.52" fill="#3d70ff"/>
<rect x="150.42" y="183.10" width="9.96" height="9.52" fill="#2994ed"/>
<rect x="159.38" y="183.10" width="9.96" height="9.52" fill="#2c90f0"/>
<rect x="168.33" y="183.10" width="9.96" height="9.52" fill="#2994ed"/>
<rect x="177.29" y="183.10" width="9.96" height="9.52" fill="#03b7cb"/>
<rect x="186.25" y="183.10" width="9.96" height="9.52" fill="#10b2d5"/>
<rect x="195.21" y="183.10" width="9.96" height="9.52" fill="#c8c129"/>
<rect x="204.17" y="183.10" width="9.96" height="9.52" fill="#10b2d5"/>
<rect x="213.12" y="183.10" width="9.96" height="9.52" fill="#2994ed"/>
<rect x="222.08" y="183.10" width="9.96" height="9.52" fill="#03b7cb"/>
<rect x="231.04" y="183.10" width="8.96" height="9.52" fill="#34c79c"/>
<rect x="25.00" y="191.62" width="9.96" height="9.52" fill="#1da8e0"/>
<rect x="33.96" y="191.62" width="9.96" height="9.52" fill="#4755f6"/>
<rect x="42.92" y="191.62" width="9.96" height="9.52" fill="#2994ed"/>
<rect x="51.88" y="191.62" width="9.96" height="9.52" fill="#4367fd"/>
<rect x="60.83" y="191.62" width="9.96" height="9.52" fill="#2e85f8"/>
<rect x="69.79" y="191.62" width="9.96" height="9.52" fill="#1da8e0"/>
<rect x="78.75" y="191.62" width="9.96" height="9.52" fill="#01b9c6"/>
<rect x="87.71" y="191.62" width="9.96" height="9.52" fill="#347afd"/>
<rect x="96.67" y="191.62" width="9.96" height="9.52" fill="#2994ed"/>
<rect x="105.62" y="191.62" width="9.96" height="9.52" fill="#4367fd"/>
<rect x="114.58" y="191.62" width="18.92" height="9.52" fill="#22a1e4"/>
<rect x="132.50" y="191.62" width="9.96" height="9.52" fill="#4562fc"/>
<rect x="141.46" y="191.62" width="9.96" height="9.52" fill="#347afd"/>
<rect x="150.42" y="191.62" width="9.96" height="9.52" fill="#2c90f0"/>
<rect x="159.38" y="191.62" width="9.96" height="9.52" fill="#347afd"/>
<rect x="168.33" y="191.62" width="9.96" height="9.52" fill="#2c90f0"/>
<rect x="177.29" y="191.62" width="9.96" height="9.52" fill="#2d8cf3"/>
<rect x="186.25" y="191.62" width="9.96" height="9.52" fill="#2994ed"/>
<rect x="195.21" y="191.62" width="9.96" height="9.52" fill="#10b2d5"/>
<rect x="204.17" y="191.62" width="9.96" height="9.52" fill="#c8c129"/>
<rect x="213.12" y="191.62" width="9.96" height="9.52" fill="#10b2d5"/>
<rect x="222.08" y="191.62" width="9.96" height="9.52" fill="#1caadf"/>
<rect x="231.04" y="191.62" width="8.96" height="9.52" fill="#05b6ce"/>
<rect x="25.00" y="200.14" width="9.96" height="9.52" fill="#03b7cb"/>
<rect x="33.96" y="200.14" width="18.92" height="9.52" fill="#2e85f8"/>
<rect x="51.88" y="200.14" width="9.96" height="9.52" fill="#307ffb"/>
<rect x="60.83" y="200.14" width="9.96" height="9.52" fill="#347afd"/>
<rect x="69.79" y="200.14" width="18.92" height="9.52" fill="#2e85f8"/>
<rect x="87.71" y="200.14" width="18.92" height="9.52" fill="#307ffb"/>
<rect x="105.62" y="200.14" width="9.96" height="9.52" fill="#347afd"/>
<rect x="114.58" y="200.14" width="9.96" height="9.52" fill="#307ffb"/>
<rect x="123.54" y="200.14" width="9.96" height="9.52" fill="#4230c4"/>
<rect x="132.50" y="200.14" width="9.96" height="9.52" fill="#4562fc"/>
<rect x="141.46" y="200.14" width="9.96" height="9.52" fill="#2b92ee"/>
<rect x="150.42" y="200.14" width="9.96" height="9.52" fill="#484cef"/>
<rect x="159.38" y="200.14" width="9.96" height="9.52" fill="#4562fc"/>
<rect x="168.33" y="200.14" width="9.96" height="9.52" fill="#48cb86"/>
<rect x="177.29" y="200.14" width="27.88" height="9.52" fill="#2994ed"/>
<rect x="204.17" y="200.14" width="9.96" height="9.52" fill="#03b7cb"/>
<rect x="213.12" y="200.14" width="9.96" height="9.52" fill="#eaba31"/>
<rect x="222.08" y="200.14" width="9.96" height="9.52" fill="#03b7cb"/>
<rect x="231.04" y="200.14" width="8.96" height="9.52" fill="#34c79c"/>
<rect x="25.00" y="208.66" width="9.96" height="9.52" fill="#2bc3a8"/>
<rect x="33.96" y="208.66" width="27.88" height="9.52" fill="#13b0d7"/>
<rect x="60.83" y="208.66" width="9.96" height="9.52" fill="#18addb"/>
<rect x="69.79" y="208.66" width="9.96" height="9.52" fill="#484cef"/>
<rect x="78.75" y="208.66" width="9.96" height="9.52" fill="#4367fd"/>
<rect x="87.71" y="208.66" width="9.96" height="9.52" fill="#259ce7"/>
<rect x="96.67" y="208.66" width="18.92" height="9.52" fill="#2994ed"/>
<rect x="114.58" y="208.66" width="9.96" height="9.52" fill="#347afd"/>
<rect x="123.54" y="208.66" width="18.92" height="9.52" fill="#2e85f8"/>
<rect x="141.46" y="208.66" width="9.96" height="9.52" fill="#22a1e4"/>
<rect x="150.42" y="208.66" width="9.96" height="9.52" fill="#259ce7"/>
<rect x="159.38" y="208.66" width="9.96" height="9.52" fill="#22a1e4"/>
<rect x="168.33" y="208.66" width="18.92" height="9.52" fill="#0cbdbc"/>
<rect x="186.25" y="208.66" width="9.96" height="9.52" fill="#34c79c"/>
<rect x="195.21" y="208.66" width="9.96" height="9.52" fill="#03b7cb"/>
<rect x="204.17" y="208.66" width="9.96" height="9.52" fill="#1caadf"/>
<rect x="213.12" y="208.66" width="9.96" height="9.52" fill="#03b7cb"/>
<rect x="222.08" y="208.66" width="9.96" height="9.52" fill="#b4c533"/>
<rect x="231.04" y="208.66" width="8.96" height="9.52" fill="#48cb86"/>
<rect x="25.00" y="217.18" width="9.96" height="8.52" fill="#48cb86"/>
<rect x="33.96" y="217.18" width="9.96" height="8.52" fill="#347afd"/>
<rect x="42.92" y="217.18" width="9.96" height="8.52" fill="#2994ed"/>
<rect x="51.88" y="217.18" width="9.96" height="8.52" fill="#21a3e3"/>
<rect x="60.83" y="217.18" width="9.96" height="8.52" fill="#307ffb"/>
<rect x="69.79" y="217.18" width="9.96" height="8.52" fill="#4562fc"/>
<rect x="78.75" y="217.18" width="9.96" height="8.52" fill="#05bbc1"/>
<rect x="87.71" y="217.18" width="9.96" height="8.52" fill="#307ffb"/>
<rect x="96.67" y="217.18" width="36.83" height="8.52" fill="#2994ed"/>
<rect x="132.50" y="217.18" width="9.96" height="8.52" fill="#2e85f8"/>
<rect x="141.46" y="217.18" width="9.96" height="8.52" fill="#2994ed"/>
<rect x="150.42" y="217.18" width="9.96" height="8.52" fill="#4367fd"/>
<rect x="159.38" y="217.18" width="9.96" height="8.52" fill="#2994ed"/>
<rect x="168.33" y="217.18" width="9.96" height="8.52" fill="#24c2ae"/>
<rect x="177.29" y="217.18" width="18.92" height="8.52" fill="#0cbdbc"/>
<rect x="195.21" y="217.18" width="9.96" height="8.52" fill="#48cb86"/>
<rect x="204.17" y="217.18" width="9.96" height="8.52" fill="#03b7cb"/>
<rect x="213.12" y="217.18" width="9.96" height="8.52" fill="#34c79c"/>
<rect x="222.08" y="217.18" width="9.96" height="8.52" fill="#48cb86"/>
<rect x="231.04" y="217.18" width="8.96" height="8.52" fill="#f1ba37"/>
</g>
<rect x="25.00" y="21.20" width="215.00" height="204.50" fill="none" stroke="#262626" stroke-opacity="0.55" stroke-width="0.6"/>
<path d="M65.31 225.70v-2 M65.31 21.20v2 M25.00 59.54h2 M240.00 59.54h-2" stroke="#262626" stroke-opacity="0.7" stroke-width="0.6" fill="none"/>
<text x="65.31" y="242.30" text-anchor="middle" class="t">5</text>
<text x="20.60" y="63.74" text-anchor="end" class="t">5</text>
<path d="M110.10 225.70v-2 M110.10 21.20v2 M25.00 102.15h2 M240.00 102.15h-2" stroke="#262626" stroke-opacity="0.7" stroke-width="0.6" fill="none"/>
<text x="110.10" y="242.30" text-anchor="middle" class="t">10</text>
<text x="20.60" y="106.35" text-anchor="end" class="t">10</text>
<path d="M154.90 225.70v-2 M154.90 21.20v2 M25.00 144.75h2 M240.00 144.75h-2" stroke="#262626" stroke-opacity="0.7" stroke-width="0.6" fill="none"/>
<text x="154.90" y="242.30" text-anchor="middle" class="t">15</text>
<text x="20.60" y="148.95" text-anchor="end" class="t">15</text>
<path d="M199.69 225.70v-2 M199.69 21.20v2 M25.00 187.36h2 M240.00 187.36h-2" stroke="#262626" stroke-opacity="0.7" stroke-width="0.6" fill="none"/>
<text x="199.69" y="242.30" text-anchor="middle" class="t">20</text>
<text x="20.60" y="191.56" text-anchor="end" class="t">20</text>
<g>
<rect x="267.50" y="21.40" width="9.96" height="9.52" fill="#f8ba3d"/>
<rect x="276.46" y="21.40" width="9.96" height="9.52" fill="#71cd64"/>
<rect x="285.43" y="21.40" width="9.96" height="9.52" fill="#39c895"/>
<rect x="294.39" y="21.40" width="9.96" height="9.52" fill="#5ccc76"/>
<rect x="303.35" y="21.40" width="18.93" height="9.52" fill="#34c79c"/>
<rect x="321.27" y="21.40" width="9.96" height="9.52" fill="#71cd64"/>
<rect x="330.24" y="21.40" width="9.96" height="9.52" fill="#34c79c"/>
<rect x="339.20" y="21.40" width="9.96" height="9.52" fill="#5ccc76"/>
<rect x="348.16" y="21.40" width="9.96" height="9.52" fill="#1caadf"/>
<rect x="357.12" y="21.40" width="9.96" height="9.52" fill="#05b6ce"/>
<rect x="366.09" y="21.40" width="9.96" height="9.52" fill="#b4c533"/>
<rect x="375.05" y="21.40" width="9.96" height="9.52" fill="#71cd64"/>
<rect x="384.01" y="21.40" width="9.96" height="9.52" fill="#48cb86"/>
<rect x="392.98" y="21.40" width="9.96" height="9.52" fill="#5ccc76"/>
<rect x="401.94" y="21.40" width="9.96" height="9.52" fill="#3fca8e"/>
<rect x="410.90" y="21.40" width="9.96" height="9.52" fill="#b4c533"/>
<rect x="419.86" y="21.40" width="9.96" height="9.52" fill="#48cb86"/>
<rect x="428.83" y="21.40" width="9.96" height="9.52" fill="#39c895"/>
<rect x="437.79" y="21.40" width="9.96" height="9.52" fill="#94ca4a"/>
<rect x="446.75" y="21.40" width="9.96" height="9.52" fill="#5ccc76"/>
<rect x="455.71" y="21.40" width="9.96" height="9.52" fill="#f1ba37"/>
<rect x="464.68" y="21.40" width="9.96" height="9.52" fill="#fcbd3d"/>
<rect x="473.64" y="21.40" width="8.96" height="9.52" fill="#dabd28"/>
<rect x="267.50" y="29.92" width="9.96" height="9.52" fill="#5ccc76"/>
<rect x="276.46" y="29.92" width="9.96" height="9.52" fill="#fad42e"/>
<rect x="285.43" y="29.92" width="9.96" height="9.52" fill="#b4c533"/>
<rect x="294.39" y="29.92" width="9.96" height="9.52" fill="#94ca4a"/>
<rect x="303.35" y="29.92" width="9.96" height="9.52" fill="#48cb86"/>
<rect x="312.31" y="29.92" width="9.96" height="9.52" fill="#34c79c"/>
<rect x="321.27" y="29.92" width="9.96" height="9.52" fill="#02bac4"/>
<rect x="330.24" y="29.92" width="9.96" height="9.52" fill="#7dcc5c"/>
<rect x="339.20" y="29.92" width="9.96" height="9.52" fill="#aac73a"/>
<rect x="348.16" y="29.92" width="9.96" height="9.52" fill="#5ccc76"/>
<rect x="357.12" y="29.92" width="9.96" height="9.52" fill="#12beb9"/>
<rect x="366.09" y="29.92" width="9.96" height="9.52" fill="#48cb86"/>
<rect x="375.05" y="29.92" width="9.96" height="9.52" fill="#94ca4a"/>
<rect x="384.01" y="29.92" width="9.96" height="9.52" fill="#5ccc76"/>
<rect x="392.98" y="29.92" width="9.96" height="9.52" fill="#13b0d7"/>
<rect x="401.94" y="29.92" width="9.96" height="9.52" fill="#5ccc76"/>
<rect x="410.90" y="29.92" width="9.96" height="9.52" fill="#b4c533"/>
<rect x="419.86" y="29.92" width="9.96" height="9.52" fill="#dabd28"/>
<rect x="428.83" y="29.92" width="9.96" height="9.52" fill="#5ccc76"/>
<rect x="437.79" y="29.92" width="9.96" height="9.52" fill="#1cc0b4"/>
<rect x="446.75" y="29.92" width="9.96" height="9.52" fill="#0cb3d3"/>
<rect x="455.71" y="29.92" width="18.93" height="9.52" fill="#71cd64"/>
<rect x="473.64" y="29.92" width="8.96" height="9.52" fill="#02bac4"/>
<rect x="267.50" y="38.43" width="9.96" height="9.52" fill="#34c79c"/>
<rect x="276.46" y="38.43" width="9.96" height="9.52" fill="#b4c533"/>
<rect x="285.43" y="38.43" width="9.96" height="9.52" fill="#f5e825"/>
<rect x="294.39" y="38.43" width="9.96" height="9.52" fill="#c8c129"/>
<rect x="303.35" y="38.43" width="9.96" height="9.52" fill="#5ccc76"/>
<rect x="312.31" y="38.43" width="9.96" height="9.52" fill="#aac73a"/>
<rect x="321.27" y="38.43" width="9.96" height="9.52" fill="#3fca8e"/>
<rect x="330.24" y="38.43" width="9.96" height="9.52" fill="#66cd6d"/>
<rect x="339.20" y="38.43" width="9.96" height="9.52" fill="#fcbd3d"/>
<rect x="348.16" y="38.43" width="9.96" height="9.52" fill="#88cb53"/>
<rect x="357.12" y="38.43" width="9.96" height="9.52" fill="#5ccc76"/>
<rect x="366.09" y="38.43" width="9.96" height="9.52" fill="#34c79c"/>
<rect x="375.05" y="38.43" width="9.96" height="9.52" fill="#5ccc76"/>
<rect x="384.01" y="38.43" width="9.96" height="9.52" fill="#b4c533"/>
<rect x="392.98" y="38.43" width="9.96" height="9.52" fill="#71cd64"/>
<rect x="401.94" y="38.43" width="9.96" height="9.52" fill="#5ccc76"/>
<rect x="410.90" y="38.43" width="9.96" height="9.52" fill="#71cd64"/>
<rect x="419.86" y="38.43" width="9.96" height="9.52" fill="#48cb86"/>
<rect x="428.83" y="38.43" width="9.96" height="9.52" fill="#b4c533"/>
<rect x="437.79" y="38.43" width="9.96" height="9.52" fill="#2bc3a8"/>
<rect x="446.75" y="38.43" width="9.96" height="9.52" fill="#13b0d7"/>
<rect x="455.71" y="38.43" width="9.96" height="9.52" fill="#71cd64"/>
<rect x="464.68" y="38.43" width="9.96" height="9.52" fill="#48cb86"/>
<rect x="473.64" y="38.43" width="8.96" height="9.52" fill="#71cd64"/>
<rect x="267.50" y="46.95" width="9.96" height="9.52" fill="#48cb86"/>
<rect x="276.46" y="46.95" width="9.96" height="9.52" fill="#94ca4a"/>
<rect x="285.43" y="46.95" width="9.96" height="9.52" fill="#b4c533"/>
<rect x="294.39" y="46.95" width="9.96" height="9.52" fill="#f6f21e"/>
<rect x="303.35" y="46.95" width="9.96" height="9.52" fill="#f1ba37"/>
<rect x="312.31" y="46.95" width="9.96" height="9.52" fill="#aac73a"/>
<rect x="321.27" y="46.95" width="9.96" height="9.52" fill="#5ccc76"/>
<rect x="330.24" y="46.95" width="9.96" height="9.52" fill="#34c79c"/>
<rect x="339.20" y="46.95" width="9.96" height="9.52" fill="#71cd64"/>
<rect x="348.16" y="46.95" width="9.96" height="9.52" fill="#eaba31"/>
<rect x="357.12" y="46.95" width="9.96" height="9.52" fill="#48cb86"/>
<rect x="366.09" y="46.95" width="9.96" height="9.52" fill="#21a3e3"/>
<rect x="375.05" y="46.95" width="9.96" height="9.52" fill="#24c2ae"/>
<rect x="384.01" y="46.95" width="9.96" height="9.52" fill="#48cb86"/>
<rect x="392.98" y="46.95" width="9.96" height="9.52" fill="#34c79c"/>
<rect x="401.94" y="46.95" width="9.96" height="9.52" fill="#48cb86"/>
<rect x="410.90" y="46.95" width="9.96" height="9.52" fill="#3fca8e"/>
<rect x="419.86" y="46.95" width="9.96" height="9.52" fill="#aac73a"/>
<rect x="428.83" y="46.95" width="9.96" height="9.52" fill="#fcbd3d"/>
<rect x="437.79" y="46.95" width="9.96" height="9.52" fill="#3fca8e"/>
<rect x="446.75" y="46.95" width="9.96" height="9.52" fill="#24c2ae"/>
<rect x="455.71" y="46.95" width="9.96" height="9.52" fill="#71cd64"/>
<rect x="464.68" y="46.95" width="9.96" height="9.52" fill="#eaba31"/>
<rect x="473.64" y="46.95" width="8.96" height="9.52" fill="#71cd64"/>
<rect x="267.50" y="55.47" width="9.96" height="9.52" fill="#24c2ae"/>
<rect x="276.46" y="55.47" width="9.96" height="9.52" fill="#34c79c"/>
<rect x="285.43" y="55.47" width="9.96" height="9.52" fill="#5ccc76"/>
<rect x="294.39" y="55.47" width="9.96" height="9.52" fill="#f1ba37"/>
<rect x="303.35" y="55.47" width="9.96" height="9.52" fill="#dabd28"/>
<rect x="312.31" y="55.47" width="9.96" height="9.52" fill="#e2bc2b"/>
<rect x="321.27" y="55.47" width="9.96" height="9.52" fill="#c8c129"/>
<rect x="330.24" y="55.47" width="9.96" height="9.52" fill="#12beb9"/>
<rect x="339.20" y="55.47" width="9.96" height="9.52" fill="#5ccc76"/>
<rect x="348.16" y="55.47" width="9.96" height="9.52" fill="#7dcc5c"/>
<rect x="357.12" y="55.47" width="9.96" height="9.52" fill="#2fc5a2"/>
<rect x="366.09" y="55.47" width="9.96" height="9.52" fill="#66cd6d"/>
<rect x="375.05" y="55.47" width="9.96" height="9.52" fill="#12beb9"/>
<rect x="384.01" y="55.47" width="9.96" height="9.52" fill="#5ccc76"/>
<rect x="392.98" y="55.47" width="9.96" height="9.52" fill="#b4c533"/>
<rect x="401.94" y="55.47" width="9.96" height="9.52" fill="#48cb86"/>
<rect x="410.90" y="55.47" width="9.96" height="9.52" fill="#39c895"/>
<rect x="419.86" y="55.47" width="9.96" height="9.52" fill="#13b0d7"/>
<rect x="428.83" y="55.47" width="9.96" height="9.52" fill="#c8c129"/>
<rect x="437.79" y="55.47" width="9.96" height="9.52" fill="#aac73a"/>
<rect x="446.75" y="55.47" width="9.96" height="9.52" fill="#1caadf"/>
<rect x="455.71" y="55.47" width="9.96" height="9.52" fill="#71cd64"/>
<rect x="464.68" y="55.47" width="9.96" height="9.52" fill="#dabd28"/>
<rect x="473.64" y="55.47" width="8.96" height="9.52" fill="#c8c129"/>
<rect x="267.50" y="63.98" width="18.93" height="9.52" fill="#24c2ae"/>
<rect x="285.43" y="63.98" width="18.93" height="9.52" fill="#94ca4a"/>
<rect x="303.35" y="63.98" width="9.96" height="9.52" fill="#e2bc2b"/>
<rect x="312.31" y="63.98" width="9.96" height="9.52" fill="#f5ed22"/>
<rect x="321.27" y="63.98" width="9.96" height="9.52" fill="#71cd64"/>
<rect x="330.24" y="63.98" width="9.96" height="9.52" fill="#24c2ae"/>
<rect x="339.20" y="63.98" width="9.96" height="9.52" fill="#3fca8e"/>
<rect x="348.16" y="63.98" width="9.96" height="9.52" fill="#52cc7e"/>
<rect x="357.12" y="63.98" width="18.93" height="9.52" fill="#f1ba37"/>
<rect x="375.05" y="63.98" width="9.96" height="9.52" fill="#3fca8e"/>
<rect x="384.01" y="63.98" width="9.96" height="9.52" fill="#94ca4a"/>
<rect x="392.98" y="63.98" width="9.96" height="9.52" fill="#88cb53"/>
<rect x="401.94" y="63.98" width="9.96" height="9.52" fill="#71cd64"/>
<rect x="410.90" y="63.98" width="9.96" height="9.52" fill="#48cb86"/>
<rect x="419.86" y="63.98" width="9.96" height="9.52" fill="#aac73a"/>
<rect x="428.83" y="63.98" width="9.96" height="9.52" fill="#3fca8e"/>
<rect x="437.79" y="63.98" width="9.96" height="9.52" fill="#fcbd3d"/>
<rect x="446.75" y="63.98" width="9.96" height="9.52" fill="#05b6ce"/>
<rect x="455.71" y="63.98" width="18.93" height="9.52" fill="#71cd64"/>
<rect x="473.64" y="63.98" width="8.96" height="9.52" fill="#48cb86"/>
<rect x="267.50" y="72.50" width="9.96" height="9.52" fill="#71cd64"/>
<rect x="276.46" y="72.50" width="9.96" height="9.52" fill="#12beb9"/>
<rect x="285.43" y="72.50" width="9.96" height="9.52" fill="#39c895"/>
<rect x="294.39" y="72.50" width="9.96" height="9.52" fill="#3fca8e"/>
<rect x="303.35" y="72.50" width="9.96" height="9.52" fill="#c8c129"/>
<rect x="312.31" y="72.50" width="9.96" height="9.52" fill="#71cd64"/>
<rect x="321.27" y="72.50" width="9.96" height="9.52" fill="#fad42e"/>
<rect x="330.24" y="72.50" width="9.96" height="9.52" fill="#0cb3d3"/>
<rect x="339.20" y="72.50" width="9.96" height="9.52" fill="#24c2ae"/>
<rect x="348.16" y="72.50" width="9.96" height="9.52" fill="#39c895"/>
<rect x="357.12" y="72.50" width="9.96" height="9.52" fill="#5ccc76"/>
<rect x="366.09" y="72.50" width="9.96" height="9.52" fill="#fcbd3d"/>
<rect x="375.05" y="72.50" width="9.96" height="9.52" fill="#39c895"/>
<rect x="384.01" y="72.50" width="9.96" height="9.52" fill="#7dcc5c"/>
<rect x="392.98" y="72.50" width="9.96" height="9.52" fill="#71cd64"/>
<rect x="401.94" y="72.50" width="9.96" height="9.52" fill="#eaba31"/>
<rect x="410.90" y="72.50" width="9.96" height="9.52" fill="#24c2ae"/>
<rect x="419.86" y="72.50" width="9.96" height="9.52" fill="#13b0d7"/>
<rect x="428.83" y="72.50" width="9.96" height="9.52" fill="#5ccc76"/>
<rect x="437.79" y="72.50" width="9.96" height="9.52" fill="#48cb86"/>
<rect x="446.75" y="72.50" width="9.96" height="9.52" fill="#c8c129"/>
<rect x="455.71" y="72.50" width="18.93" height="9.52" fill="#5ccc76"/>
<rect x="473.64" y="72.50" width="8.96" height="9.52" fill="#9fc942"/>
<rect x="267.50" y="81.02" width="9.96" height="9.52" fill="#48cb86"/>
<rect x="276.46" y="81.02" width="9.96" height="9.52" fill="#88cb53"/>
<rect x="285.43" y="81.02" width="9.96" height="9.52" fill="#71cd64"/>
<rect x="294.39" y="81.02" width="9.96" height="9.52" fill="#34c79c"/>
<rect x="303.35" y="81.02" width="9.96" height="9.52" fill="#02bac4"/>
<rect x="312.31" y="81.02" width="9.96" height="9.52" fill="#12beb9"/>
<rect x="321.27" y="81.02" width="9.96" height="9.52" fill="#0cb3d3"/>
<rect x="330.24" y="81.02" width="9.96" height="9.52" fill="#f5ed22"/>
<rect x="339.20" y="81.02" width="9.96" height="9.52" fill="#c8c129"/>
<rect x="348.16" y="81.02" width="9.96" height="9.52" fill="#94ca4a"/>
<rect x="357.12" y="81.02" width="9.96" height="9.52" fill="#3fca8e"/>
<rect x="366.09" y="81.02" width="9.96" height="9.52" fill="#94ca4a"/>
<rect x="375.05" y="81.02" width="9.96" height="9.52" fill="#fcbd3d"/>
<rect x="384.01" y="81.02" width="9.96" height="9.52" fill="#f1ba37"/>
<rect x="392.98" y="81.02" width="9.96" height="9.52" fill="#5ccc76"/>
<rect x="401.94" y="81.02" width="9.96" height="9.52" fill="#c8c129"/>
<rect x="410.90" y="81.02" width="9.96" height="9.52" fill="#71cd64"/>
<rect x="419.86" y="81.02" width="9.96" height="9.52" fill="#5ccc76"/>
<rect x="428.83" y="81.02" width="9.96" height="9.52" fill="#24c2ae"/>
<rect x="437.79" y="81.02" width="9.96" height="9.52" fill="#2c90f0"/>
<rect x="446.75" y="81.02" width="9.96" height="9.52" fill="#21a3e3"/>
<rect x="455.71" y="81.02" width="9.96" height="9.52" fill="#34c79c"/>
<rect x="464.68" y="81.02" width="9.96" height="9.52" fill="#0cb3d3"/>
<rect x="473.64" y="81.02" width="8.96" height="9.52" fill="#18addb"/>
<rect x="267.50" y="89.53" width="9.96" height="9.52" fill="#71cd64"/>
<rect x="276.46" y="89.53" width="9.96" height="9.52" fill="#b4c533"/>
<rect x="285.43" y="89.53" width="9.96" height="9.52" fill="#f8ba3d"/>
<rect x="294.39" y="89.53" width="9.96" height="9.52" fill="#94ca4a"/>
<rect x="303.35" y="89.53" width="18.93" height="9.52" fill="#5ccc76"/>
<rect x="321.27" y="89.53" width="9.96" height="9.52" fill="#48cb86"/>
<rect x="330.24" y="89.53" width="9.96" height="9.52" fill="#c8c129"/>
<rect x="339.20" y="89.53" width="9.96" height="9.52" fill="#f5ed22"/>
<rect x="348.16" y="89.53" width="9.96" height="9.52" fill="#c8c129"/>
<rect x="357.12" y="89.53" width="18.93" height="9.52" fill="#48cb86"/>
<rect x="375.05" y="89.53" width="9.96" height="9.52" fill="#dabd28"/>
<rect x="384.01" y="89.53" width="9.96" height="9.52" fill="#f8ba3d"/>
<rect x="392.98" y="89.53" width="18.93" height="9.52" fill="#94ca4a"/>
<rect x="410.90" y="89.53" width="9.96" height="9.52" fill="#5ccc76"/>
<rect x="419.86" y="89.53" width="9.96" height="9.52" fill="#9fc942"/>
<rect x="428.83" y="89.53" width="9.96" height="9.52" fill="#2fc5a2"/>
<rect x="437.79" y="89.53" width="18.93" height="9.52" fill="#12beb9"/>
<rect x="455.71" y="89.53" width="9.96" height="9.52" fill="#34c79c"/>
<rect x="464.68" y="89.53" width="9.96" height="9.52" fill="#66cd6d"/>
<rect x="473.64" y="89.53" width="8.96" height="9.52" fill="#1caadf"/>
<rect x="267.50" y="98.05" width="9.96" height="9.52" fill="#1caadf"/>
<rect x="276.46" y="98.05" width="9.96" height="9.52" fill="#5ccc76"/>
<rect x="285.43" y="98.05" width="9.96" height="9.52" fill="#94ca4a"/>
<rect x="294.39" y="98.05" width="9.96" height="9.52" fill="#eaba31"/>
<rect x="303.35" y="98.05" width="9.96" height="9.52" fill="#5ccc76"/>
<rect x="312.31" y="98.05" width="9.96" height="9.52" fill="#71cd64"/>
<rect x="321.27" y="98.05" width="9.96" height="9.52" fill="#48cb86"/>
<rect x="330.24" y="98.05" width="9.96" height="9.52" fill="#71cd64"/>
<rect x="339.20" y="98.05" width="9.96" height="9.52" fill="#c8c129"/>
<rect x="348.16" y="98.05" width="9.96" height="9.52" fill="#f5e825"/>
<rect x="357.12" y="98.05" width="9.96" height="9.52" fill="#aac73a"/>
<rect x="366.09" y="98.05" width="9.96" height="9.52" fill="#02bac4"/>
<rect x="375.05" y="98.05" width="9.96" height="9.52" fill="#94ca4a"/>
<rect x="384.01" y="98.05" width="9.96" height="9.52" fill="#f8ba3d"/>
<rect x="392.98" y="98.05" width="9.96" height="9.52" fill="#94ca4a"/>
<rect x="401.94" y="98.05" width="9.96" height="9.52" fill="#5ccc76"/>
<rect x="410.90" y="98.05" width="9.96" height="9.52" fill="#1caadf"/>
<rect x="419.86" y="98.05" width="9.96" height="9.52" fill="#24c2ae"/>
<rect x="428.83" y="98.05" width="9.96" height="9.52" fill="#c8c129"/>
<rect x="437.79" y="98.05" width="9.96" height="9.52" fill="#24c2ae"/>
<rect x="446.75" y="98.05" width="9.96" height="9.52" fill="#1caadf"/>
<rect x="455.71" y="98.05" width="9.96" height="9.52" fill="#24c2ae"/>
<rect x="464.68" y="98.05" width="9.96" height="9.52" fill="#5ccc76"/>
<rect x="473.64" y="98.05" width="8.96" height="9.52" fill="#48cb86"/>
<rect x="267.50" y="106.57" width="9.96" height="9.52" fill="#05b6ce"/>
<rect x="276.46" y="106.57" width="9.96" height="9.52" fill="#24c2ae"/>
<rect x="285.43" y="106.57" width="9.96" height="9.52" fill="#5ccc76"/>
<rect x="294.39" y="106.57" width="9.96" height="9.52" fill="#71cd64"/>
<rect x="303.35" y="106.57" width="9.96" height="9.52" fill="#24c2ae"/>
<rect x="312.31" y="106.57" width="9.96" height="9.52" fill="#eaba31"/>
<rect x="321.27" y="106.57" width="9.96" height="9.52" fill="#71cd64"/>
<rect x="330.24" y="106.57" width="9.96" height="9.52" fill="#48cb86"/>
<rect x="339.20" y="106.57" width="9.96" height="9.52" fill="#71cd64"/>
<rect x="348.16" y="106.57" width="9.96" height="9.52" fill="#aac73a"/>
<rect x="357.12" y="106.57" width="9.96" height="9.52" fill="#f5e825"/>
<rect x="366.09" y="106.57" width="9.96" height="9.52" fill="#b4c533"/>
<rect x="375.05" y="106.57" width="9.96" height="9.52" fill="#aac73a"/>
<rect x="384.01" y="106.57" width="9.96" height="9.52" fill="#c8c129"/>
<rect x="392.98" y="106.57" width="9.96" height="9.52" fill="#e2bc2b"/>
<rect x="401.94" y="106.57" width="9.96" height="9.52" fill="#24c2ae"/>
<rect x="410.90" y="106.57" width="9.96" height="9.52" fill="#05b6ce"/>
<rect x="419.86" y="106.57" width="9.96" height="9.52" fill="#39c895"/>
<rect x="428.83" y="106.57" width="9.96" height="9.52" fill="#71cd64"/>
<rect x="437.79" y="106.57" width="9.96" height="9.52" fill="#66cd6d"/>
<rect x="446.75" y="106.57" width="9.96" height="9.52" fill="#24c2ae"/>
<rect x="455.71" y="106.57" width="9.96" height="9.52" fill="#2994ed"/>
<rect x="464.68" y="106.57" width="9.96" height="9.52" fill="#13b0d7"/>
<rect x="473.64" y="106.57" width="8.96" height="9.52" fill="#34c79c"/>
<rect x="267.50" y="115.08" width="9.96" height="9.52" fill="#94ca4a"/>
<rect x="276.46" y="115.08" width="9.96" height="9.52" fill="#48cb86"/>
<rect x="285.43" y="115.08" width="9.96" height="9.52" fill="#34c79c"/>
<rect x="294.39" y="115.08" width="9.96" height="9.52" fill="#1caadf"/>
<rect x="303.35" y="115.08" width="9.96" height="9.52" fill="#5ccc76"/>
<rect x="312.31" y="115.08" width="9.96" height="9.52" fill="#e2bc2b"/>
<rect x="321.27" y="115.08" width="9.96" height="9.52" fill="#f8ba3d"/>
<rect x="330.24" y="115.08" width="9.96" height="9.52" fill="#71cd64"/>
<rect x="339.20" y="115.08" width="9.96" height="9.52" fill="#48cb86"/>
<rect x="348.16" y="115.08" width="9.96" height="9.52" fill="#05b6ce"/>
<rect x="357.12" y="115.08" width="9.96" height="9.52" fill="#b4c533"/>
<rect x="366.09" y="115.08" width="9.96" height="9.52" fill="#f5ed22"/>
<rect x="375.05" y="115.08" width="9.96" height="9.52" fill="#b4c533"/>
<rect x="384.01" y="115.08" width="9.96" height="9.52" fill="#94ca4a"/>
<rect x="392.98" y="115.08" width="9.96" height="9.52" fill="#f1ba37"/>
<rect x="401.94" y="115.08" width="9.96" height="9.52" fill="#eaba31"/>
<rect x="410.90" y="115.08" width="9.96" height="9.52" fill="#02bac4"/>
<rect x="419.86" y="115.08" width="9.96" height="9.52" fill="#24c2ae"/>
<rect x="428.83" y="115.08" width="9.96" height="9.52" fill="#3fca8e"/>
<rect x="437.79" y="115.08" width="9.96" height="9.52" fill="#d2bf27"/>
<rect x="446.75" y="115.08" width="9.96" height="9.52" fill="#eaba31"/>
<rect x="455.71" y="115.08" width="9.96" height="9.52" fill="#5ccc76"/>
<rect x="464.68" y="115.08" width="9.96" height="9.52" fill="#24c2ae"/>
<rect x="473.64" y="115.08" width="8.96" height="9.52" fill="#12beb9"/>
<rect x="267.50" y="123.60" width="9.96" height="9.52" fill="#71cd64"/>
<rect x="276.46" y="123.60" width="9.96" height="9.52" fill="#94ca4a"/>
<rect x="285.43" y="123.60" width="9.96" height="9.52" fill="#71cd64"/>
<rect x="294.39" y="123.60" width="9.96" height="9.52" fill="#48cb86"/>
<rect x="303.35" y="123.60" width="9.96" height="9.52" fill="#02bac4"/>
<rect x="312.31" y="123.60" width="18.93" height="9.52" fill="#48cb86"/>
<rect x="330.24" y="123.60" width="9.96" height="9.52" fill="#f8ba3d"/>
<rect x="339.20" y="123.60" width="9.96" height="9.52" fill="#dabd28"/>
<rect x="348.16" y="123.60" width="9.96" height="9.52" fill="#94ca4a"/>
<rect x="357.12" y="123.60" width="9.96" height="9.52" fill="#b4c533"/>
<rect x="366.09" y="123.60" width="9.96" height="9.52" fill="#c8c129"/>
<rect x="375.05" y="123.60" width="9.96" height="9.52" fill="#f5e327"/>
<rect x="384.01" y="123.60" width="9.96" height="9.52" fill="#fcbd3d"/>
<rect x="392.98" y="123.60" width="9.96" height="9.52" fill="#aac73a"/>
<rect x="401.94" y="123.60" width="9.96" height="9.52" fill="#eaba31"/>
<rect x="410.90" y="123.60" width="9.96" height="9.52" fill="#c8c129"/>
<rect x="419.86" y="123.60" width="9.96" height="9.52" fill="#5ccc76"/>
<rect x="428.83" y="123.60" width="9.96" height="9.52" fill="#3fca8e"/>
<rect x="437.79" y="123.60" width="9.96" height="9.52" fill="#39c895"/>
<rect x="446.75" y="123.60" width="9.96" height="9.52" fill="#12beb9"/>
<rect x="455.71" y="123.60" width="9.96" height="9.52" fill="#7dcc5c"/>
<rect x="464.68" y="123.60" width="9.96" height="9.52" fill="#02bac4"/>
<rect x="473.64" y="123.60" width="8.96" height="9.52" fill="#5ccc76"/>
<rect x="267.50" y="132.12" width="9.96" height="9.52" fill="#5ccc76"/>
<rect x="276.46" y="132.12" width="9.96" height="9.52" fill="#71cd64"/>
<rect x="285.43" y="132.12" width="9.96" height="9.52" fill="#c8c129"/>
<rect x="294.39" y="132.12" width="9.96" height="9.52" fill="#48cb86"/>
<rect x="303.35" y="132.12" width="9.96" height="9.52" fill="#5ccc76"/>
<rect x="312.31" y="132.12" width="9.96" height="9.52" fill="#aac73a"/>
<rect x="321.27" y="132.12" width="9.96" height="9.52" fill="#71cd64"/>
<rect x="330.24" y="132.12" width="27.89" height="9.52" fill="#f8ba3d"/>
<rect x="357.12" y="132.12" width="9.96" height="9.52" fill="#c8c129"/>
<rect x="366.09" y="132.12" width="9.96" height="9.52" fill="#7dcc5c"/>
<rect x="375.05" y="132.12" width="9.96" height="9.52" fill="#fcbd3d"/>
<rect x="384.01" y="132.12" width="9.96" height="9.52" fill="#f5ed22"/>
<rect x="392.98" y="132.12" width="9.96" height="9.52" fill="#f8ba3d"/>
<rect x="401.94" y="132.12" width="9.96" height="9.52" fill="#5ccc76"/>
<rect x="410.90" y="132.12" width="9.96" height="9.52" fill="#71cd64"/>
<rect x="419.86" y="132.12" width="9.96" height="9.52" fill="#88cb53"/>
<rect x="428.83" y="132.12" width="27.89" height="9.52" fill="#34c79c"/>
<rect x="455.71" y="132.12" width="9.96" height="9.52" fill="#12beb9"/>
<rect x="464.68" y="132.12" width="9.96" height="9.52" fill="#02bac4"/>
<rect x="473.64" y="132.12" width="8.96" height="9.52" fill="#12beb9"/>
<rect x="267.50" y="140.63" width="9.96" height="9.52" fill="#48cb86"/>
<rect x="276.46" y="140.63" width="9.96" height="9.52" fill="#13b0d7"/>
<rect x="285.43" y="140.63" width="9.96" height="9.52" fill="#71cd64"/>
<rect x="294.39" y="140.63" width="9.96" height="9.52" fill="#24c2ae"/>
<rect x="303.35" y="140.63" width="9.96" height="9.52" fill="#aac73a"/>
<rect x="312.31" y="140.63" width="18.93" height="9.52" fill="#71cd64"/>
<rect x="330.24" y="140.63" width="9.96" height="9.52" fill="#5ccc76"/>
<rect x="339.20" y="140.63" width="18.93" height="9.52" fill="#b4c533"/>
<rect x="357.12" y="140.63" width="9.96" height="9.52" fill="#dabd28"/>
<rect x="366.09" y="140.63" width="9.96" height="9.52" fill="#f8ba3d"/>
<rect x="375.05" y="140.63" width="9.96" height="9.52" fill="#aac73a"/>
<rect x="384.01" y="140.63" width="9.96" height="9.52" fill="#f8ba3d"/>
<rect x="392.98" y="140.63" width="9.96" height="9.52" fill="#f5ed22"/>
<rect x="401.94" y="140.63" width="9.96" height="9.52" fill="#fec537"/>
<rect x="410.90" y="140.63" width="9.96" height="9.52" fill="#48cb86"/>
<rect x="419.86" y="140.63" width="9.96" height="9.52" fill="#24c2ae"/>
<rect x="428.83" y="140.63" width="9.96" height="9.52" fill="#13b0d7"/>
<rect x="437.79" y="140.63" width="9.96" height="9.52" fill="#7dcc5c"/>
<rect x="446.75" y="140.63" width="9.96" height="9.52" fill="#88cb53"/>
<rect x="455.71" y="140.63" width="9.96" height="9.52" fill="#34c79c"/>
<rect x="464.68" y="140.63" width="9.96" height="9.52" fill="#0cb3d3"/>
<rect x="473.64" y="140.63" width="8.96" height="9.52" fill="#66cd6d"/>
<rect x="267.50" y="149.15" width="9.96" height="9.52" fill="#34c79c"/>
<rect x="276.46" y="149.15" width="9.96" height="9.52" fill="#48cb86"/>
<rect x="285.43" y="149.15" width="9.96" height="9.52" fill="#5ccc76"/>
<rect x="294.39" y="149.15" width="9.96" height="9.52" fill="#34c79c"/>
<rect x="303.35" y="149.15" width="9.96" height="9.52" fill="#48cb86"/>
<rect x="312.31" y="149.15" width="9.96" height="9.52" fill="#94ca4a"/>
<rect x="321.27" y="149.15" width="9.96" height="9.52" fill="#eaba31"/>
<rect x="330.24" y="149.15" width="9.96" height="9.52" fill="#dabd28"/>
<rect x="339.20" y="149.15" width="9.96" height="9.52" fill="#94ca4a"/>
<rect x="348.16" y="149.15" width="9.96" height="9.52" fill="#71cd64"/>
<rect x="357.12" y="149.15" width="9.96" height="9.52" fill="#34c79c"/>
<rect x="366.09" y="149.15" width="9.96" height="9.52" fill="#f8ba3d"/>
<rect x="375.05" y="149.15" width="9.96" height="9.52" fill="#eaba31"/>
<rect x="384.01" y="149.15" width="9.96" height="9.52" fill="#71cd64"/>
<rect x="392.98" y="149.15" width="9.96" height="9.52" fill="#f8ba3d"/>
<rect x="401.94" y="149.15" width="9.96" height="9.52" fill="#fad42e"/>
<rect x="410.90" y="149.15" width="9.96" height="9.52" fill="#71cd64"/>
<rect x="419.86" y="149.15" width="9.96" height="9.52" fill="#39c895"/>
<rect x="428.83" y="149.15" width="9.96" height="9.52" fill="#0cb3d3"/>
<rect x="437.79" y="149.15" width="9.96" height="9.52" fill="#71cd64"/>
<rect x="446.75" y="149.15" width="9.96" height="9.52" fill="#88cb53"/>
<rect x="455.71" y="149.15" width="9.96" height="9.52" fill="#2798ea"/>
<rect x="464.68" y="149.15" width="9.96" height="9.52" fill="#24c2ae"/>
<rect x="473.64" y="149.15" width="8.96" height="9.52" fill="#34c79c"/>
<rect x="267.50" y="157.67" width="9.96" height="9.52" fill="#aac73a"/>
<rect x="276.46" y="157.67" width="9.96" height="9.52" fill="#c8c129"/>
<rect x="285.43" y="157.67" width="9.96" height="9.52" fill="#5ccc76"/>
<rect x="294.39" y="157.67" width="9.96" height="9.52" fill="#48cb86"/>
<rect x="303.35" y="157.67" width="9.96" height="9.52" fill="#34c79c"/>
<rect x="312.31" y="157.67" width="9.96" height="9.52" fill="#71cd64"/>
<rect x="321.27" y="157.67" width="9.96" height="9.52" fill="#34c79c"/>
<rect x="330.24" y="157.67" width="18.93" height="9.52" fill="#71cd64"/>
<rect x="348.16" y="157.67" width="9.96" height="9.52" fill="#1caadf"/>
<rect x="357.12" y="157.67" width="9.96" height="9.52" fill="#05b6ce"/>
<rect x="366.09" y="157.67" width="9.96" height="9.52" fill="#02bac4"/>
<rect x="375.05" y="157.67" width="9.96" height="9.52" fill="#c8c129"/>
<rect x="384.01" y="157.67" width="9.96" height="9.52" fill="#71cd64"/>
<rect x="392.98" y="157.67" width="9.96" height="9.52" fill="#24c2ae"/>
<rect x="401.94" y="157.67" width="9.96" height="9.52" fill="#5ccc76"/>
<rect x="410.90" y="157.67" width="9.96" height="9.52" fill="#f5e825"/>
<rect x="419.86" y="157.67" width="9.96" height="9.52" fill="#dabd28"/>
<rect x="428.83" y="157.67" width="9.96" height="9.52" fill="#48cb86"/>
<rect x="437.79" y="157.67" width="18.93" height="9.52" fill="#88cb53"/>
<rect x="455.71" y="157.67" width="9.96" height="9.52" fill="#f8ba3d"/>
<rect x="464.68" y="157.67" width="9.96" height="9.52" fill="#88cb53"/>
<rect x="473.64" y="157.67" width="8.96" height="9.52" fill="#3fca8e"/>
<rect x="267.50" y="166.18" width="9.96" height="9.52" fill="#94ca4a"/>
<rect x="276.46" y="166.18" width="9.96" height="9.52" fill="#dabd28"/>
<rect x="285.43" y="166.18" width="9.96" height="9.52" fill="#48cb86"/>
<rect x="294.39" y="166.18" width="9.96" height="9.52" fill="#c8c129"/>
<rect x="303.35" y="166.18" width="9.96" height="9.52" fill="#0cb3d3"/>
<rect x="312.31" y="166.18" width="9.96" height="9.52" fill="#94ca4a"/>
<rect x="321.27" y="166.18" width="9.96" height="9.52" fill="#0cb3d3"/>
<rect x="330.24" y="166.18" width="9.96" height="9.52" fill="#5ccc76"/>
<rect x="339.20" y="166.18" width="9.96" height="9.52" fill="#88cb53"/>
<rect x="348.16" y="166.18" width="9.96" height="9.52" fill="#34c79c"/>
<rect x="357.12" y="166.18" width="9.96" height="9.52" fill="#48cb86"/>
<rect x="366.09" y="166.18" width="18.93" height="9.52" fill="#71cd64"/>
<rect x="384.01" y="166.18" width="9.96" height="9.52" fill="#5ccc76"/>
<rect x="392.98" y="166.18" width="9.96" height="9.52" fill="#24c2ae"/>
<rect x="401.94" y="166.18" width="9.96" height="9.52" fill="#48cb86"/>
<rect x="410.90" y="166.18" width="9.96" height="9.52" fill="#eaba31"/>
<rect x="419.86" y="166.18" width="9.96" height="9.52" fill="#f6f21e"/>
<rect x="428.83" y="166.18" width="9.96" height="9.52" fill="#94ca4a"/>
<rect x="437.79" y="166.18" width="9.96" height="9.52" fill="#88cb53"/>
<rect x="446.75" y="166.18" width="9.96" height="9.52" fill="#48cb86"/>
<rect x="455.71" y="166.18" width="9.96" height="9.52" fill="#f8ba3d"/>
<rect x="464.68" y="166.18" width="9.96" height="9.52" fill="#9fc942"/>
<rect x="473.64" y="166.18" width="8.96" height="9.52" fill="#94ca4a"/>
<rect x="267.50" y="174.70" width="9.96" height="9.52" fill="#24c2ae"/>
<rect x="276.46" y="174.70" width="9.96" height="9.52" fill="#5ccc76"/>
<rect x="285.43" y="174.70" width="9.96" height="9.52" fill="#c8c129"/>
<rect x="294.39" y="174.70" width="9.96" height="9.52" fill="#f8ba3d"/>
<rect x="303.35" y="174.70" width="9.96" height="9.52" fill="#c8c129"/>
<rect x="312.31" y="174.70" width="9.96" height="9.52" fill="#48cb86"/>
<rect x="321.27" y="174.70" width="9.96" height="9.52" fill="#94ca4a"/>
<rect x="330.24" y="174.70" width="18.93" height="9.52" fill="#24c2ae"/>
<rect x="348.16" y="174.70" width="9.96" height="9.52" fill="#c8c129"/>
<rect x="357.12" y="174.70" width="9.96" height="9.52" fill="#88cb53"/>
<rect x="366.09" y="174.70" width="9.96" height="9.52" fill="#34c79c"/>
<rect x="375.05" y="174.70" width="9.96" height="9.52" fill="#48cb86"/>
<rect x="384.01" y="174.70" width="9.96" height="9.52" fill="#2fc5a2"/>
<rect x="392.98" y="174.70" width="18.93" height="9.52" fill="#0cb3d3"/>
<rect x="410.90" y="174.70" width="9.96" height="9.52" fill="#39c895"/>
<rect x="419.86" y="174.70" width="9.96" height="9.52" fill="#9fc942"/>
<rect x="428.83" y="174.70" width="9.96" height="9.52" fill="#f5e327"/>
<rect x="437.79" y="174.70" width="9.96" height="9.52" fill="#94ca4a"/>
<rect x="446.75" y="174.70" width="9.96" height="9.52" fill="#88cb53"/>
<rect x="455.71" y="174.70" width="9.96" height="9.52" fill="#aac73a"/>
<rect x="464.68" y="174.70" width="17.93" height="9.52" fill="#f8ba3d"/>
<rect x="267.50" y="183.22" width="9.96" height="9.52" fill="#94ca4a"/>
<rect x="276.46" y="183.22" width="9.96" height="9.52" fill="#12beb9"/>
<rect x="285.43" y="183.22" width="9.96" height="9.52" fill="#34c79c"/>
<rect x="294.39" y="183.22" width="9.96" height="9.52" fill="#39c895"/>
<rect x="303.35" y="183.22" width="9.96" height="9.52" fill="#9fc942"/>
<rect x="312.31" y="183.22" width="9.96" height="9.52" fill="#f8ba3d"/>
<rect x="321.27" y="183.22" width="9.96" height="9.52" fill="#71cd64"/>
<rect x="330.24" y="183.22" width="9.96" height="9.52" fill="#2994ed"/>
<rect x="339.20" y="183.22" width="9.96" height="9.52" fill="#12beb9"/>
<rect x="348.16" y="183.22" width="9.96" height="9.52" fill="#39c895"/>
<rect x="357.12" y="183.22" width="9.96" height="9.52" fill="#71cd64"/>
<rect x="366.09" y="183.22" width="9.96" height="9.52" fill="#c8c129"/>
<rect x="375.05" y="183.22" width="9.96" height="9.52" fill="#34c79c"/>
<rect x="384.01" y="183.22" width="9.96" height="9.52" fill="#48cb86"/>
<rect x="392.98" y="183.22" width="18.93" height="9.52" fill="#71cd64"/>
<rect x="410.90" y="183.22" width="27.89" height="9.52" fill="#94ca4a"/>
<rect x="437.79" y="183.22" width="9.96" height="9.52" fill="#f6f21e"/>
<rect x="446.75" y="183.22" width="18.93" height="9.52" fill="#c8c129"/>
<rect x="464.68" y="183.22" width="9.96" height="9.52" fill="#5ccc76"/>
<rect x="473.64" y="183.22" width="8.96" height="9.52" fill="#34c79c"/>
<rect x="267.50" y="191.73" width="9.96" height="9.52" fill="#71cd64"/>
<rect x="276.46" y="191.73" width="9.96" height="9.52" fill="#0cb3d3"/>
<rect x="285.43" y="191.73" width="9.96" height="9.52" fill="#13b0d7"/>
<rect x="294.39" y="191.73" width="9.96" height="9.52" fill="#24c2ae"/>
<rect x="303.35" y="191.73" width="9.96" height="9.52" fill="#21a3e3"/>
<rect x="312.31" y="191.73" width="9.96" height="9.52" fill="#02bac4"/>
<rect x="321.27" y="191.73" width="9.96" height="9.52" fill="#dabd28"/>
<rect x="330.24" y="191.73" width="9.96" height="9.52" fill="#259ce7"/>
<rect x="339.20" y="191.73" width="9.96" height="9.52" fill="#24c2ae"/>
<rect x="348.16" y="191.73" width="9.96" height="9.52" fill="#1caadf"/>
<rect x="357.12" y="191.73" width="9.96" height="9.52" fill="#39c895"/>
<rect x="366.09" y="191.73" width="9.96" height="9.52" fill="#eaba31"/>
<rect x="375.05" y="191.73" width="9.96" height="9.52" fill="#12beb9"/>
<rect x="384.01" y="191.73" width="9.96" height="9.52" fill="#48cb86"/>
<rect x="392.98" y="191.73" width="27.89" height="9.52" fill="#94ca4a"/>
<rect x="419.86" y="191.73" width="9.96" height="9.52" fill="#3fca8e"/>
<rect x="428.83" y="191.73" width="9.96" height="9.52" fill="#5ccc76"/>
<rect x="437.79" y="191.73" width="9.96" height="9.52" fill="#c8c129"/>
<rect x="446.75" y="191.73" width="9.96" height="9.52" fill="#f5e825"/>
<rect x="455.71" y="191.73" width="9.96" height="9.52" fill="#dabd28"/>
<rect x="464.68" y="191.73" width="9.96" height="9.52" fill="#3fca8e"/>
<rect x="473.64" y="191.73" width="8.96" height="9.52" fill="#5ccc76"/>
<rect x="267.50" y="200.25" width="9.96" height="9.52" fill="#eaba31"/>
<rect x="276.46" y="200.25" width="45.81" height="9.52" fill="#71cd64"/>
<rect x="321.27" y="200.25" width="9.96" height="9.52" fill="#48cb86"/>
<rect x="330.24" y="200.25" width="9.96" height="9.52" fill="#71cd64"/>
<rect x="339.20" y="200.25" width="9.96" height="9.52" fill="#34c79c"/>
<rect x="348.16" y="200.25" width="9.96" height="9.52" fill="#24c2ae"/>
<rect x="357.12" y="200.25" width="9.96" height="9.52" fill="#2994ed"/>
<rect x="366.09" y="200.25" width="9.96" height="9.52" fill="#48cb86"/>
<rect x="375.05" y="200.25" width="9.96" height="9.52" fill="#7dcc5c"/>
<rect x="384.01" y="200.25" width="9.96" height="9.52" fill="#12beb9"/>
<rect x="392.98" y="200.25" width="9.96" height="9.52" fill="#5ccc76"/>
<rect x="401.94" y="200.25" width="9.96" height="9.52" fill="#2994ed"/>
<rect x="410.90" y="200.25" width="9.96" height="9.52" fill="#fcbd3d"/>
<rect x="419.86" y="200.25" width="9.96" height="9.52" fill="#f8ba3d"/>
<rect x="428.83" y="200.25" width="18.93" height="9.52" fill="#c8c129"/>
<rect x="446.75" y="200.25" width="9.96" height="9.52" fill="#dabd28"/>
<rect x="455.71" y="200.25" width="9.96" height="9.52" fill="#f5ed22"/>
<rect x="464.68" y="200.25" width="9.96" height="9.52" fill="#dabd28"/>
<rect x="473.64" y="200.25" width="8.96" height="9.52" fill="#c8c129"/>
<rect x="267.50" y="208.77" width="9.96" height="9.52" fill="#f1ba37"/>
<rect x="276.46" y="208.77" width="9.96" height="9.52" fill="#71cd64"/>
<rect x="285.43" y="208.77" width="9.96" height="9.52" fill="#48cb86"/>
<rect x="294.39" y="208.77" width="9.96" height="9.52" fill="#f8ba3d"/>
<rect x="303.35" y="208.77" width="9.96" height="9.52" fill="#dabd28"/>
<rect x="312.31" y="208.77" width="18.93" height="9.52" fill="#7dcc5c"/>
<rect x="330.24" y="208.77" width="9.96" height="9.52" fill="#13b0d7"/>
<rect x="339.20" y="208.77" width="9.96" height="9.52" fill="#5ccc76"/>
<rect x="348.16" y="208.77" width="9.96" height="9.52" fill="#48cb86"/>
<rect x="357.12" y="208.77" width="9.96" height="9.52" fill="#13b0d7"/>
<rect x="366.09" y="208.77" width="9.96" height="9.52" fill="#48cb86"/>
<rect x="375.05" y="208.77" width="9.96" height="9.52" fill="#12beb9"/>
<rect x="384.01" y="208.77" width="9.96" height="9.52" fill="#0cb3d3"/>
<rect x="392.98" y="208.77" width="9.96" height="9.52" fill="#05b6ce"/>
<rect x="401.94" y="208.77" width="9.96" height="9.52" fill="#34c79c"/>
<rect x="410.90" y="208.77" width="9.96" height="9.52" fill="#71cd64"/>
<rect x="419.86" y="208.77" width="9.96" height="9.52" fill="#aac73a"/>
<rect x="428.83" y="208.77" width="9.96" height="9.52" fill="#f8ba3d"/>
<rect x="437.79" y="208.77" width="9.96" height="9.52" fill="#48cb86"/>
<rect x="446.75" y="208.77" width="9.96" height="9.52" fill="#5ccc76"/>
<rect x="455.71" y="208.77" width="9.96" height="9.52" fill="#dabd28"/>
<rect x="464.68" y="208.77" width="9.96" height="9.52" fill="#f6de29"/>
<rect x="473.64" y="208.77" width="8.96" height="9.52" fill="#fad42e"/>
<rect x="267.50" y="217.28" width="9.96" height="8.52" fill="#dabd28"/>
<rect x="276.46" y="217.28" width="9.96" height="8.52" fill="#02bac4"/>
<rect x="285.43" y="217.28" width="9.96" height="8.52" fill="#48cb86"/>
<rect x="294.39" y="217.28" width="9.96" height="8.52" fill="#94ca4a"/>
<rect x="303.35" y="217.28" width="9.96" height="8.52" fill="#dabd28"/>
<rect x="312.31" y="217.28" width="9.96" height="8.52" fill="#48cb86"/>
<rect x="321.27" y="217.28" width="9.96" height="8.52" fill="#94ca4a"/>
<rect x="330.24" y="217.28" width="9.96" height="8.52" fill="#1caadf"/>
<rect x="339.20" y="217.28" width="9.96" height="8.52" fill="#13b0d7"/>
<rect x="348.16" y="217.28" width="9.96" height="8.52" fill="#48cb86"/>
<rect x="357.12" y="217.28" width="9.96" height="8.52" fill="#34c79c"/>
<rect x="366.09" y="217.28" width="9.96" height="8.52" fill="#5ccc76"/>
<rect x="375.05" y="217.28" width="9.96" height="8.52" fill="#34c79c"/>
<rect x="384.01" y="217.28" width="9.96" height="8.52" fill="#05b6ce"/>
<rect x="392.98" y="217.28" width="9.96" height="8.52" fill="#24c2ae"/>
<rect x="401.94" y="217.28" width="9.96" height="8.52" fill="#39c895"/>
<rect x="410.90" y="217.28" width="9.96" height="8.52" fill="#34c79c"/>
<rect x="419.86" y="217.28" width="9.96" height="8.52" fill="#94ca4a"/>
<rect x="428.83" y="217.28" width="9.96" height="8.52" fill="#f8ba3d"/>
<rect x="437.79" y="217.28" width="9.96" height="8.52" fill="#39c895"/>
<rect x="446.75" y="217.28" width="9.96" height="8.52" fill="#88cb53"/>
<rect x="455.71" y="217.28" width="9.96" height="8.52" fill="#c8c129"/>
<rect x="464.68" y="217.28" width="9.96" height="8.52" fill="#fad42e"/>
<rect x="473.64" y="217.28" width="8.96" height="8.52" fill="#f8d92c"/>
</g>
<rect x="267.50" y="21.40" width="215.10" height="204.40" fill="none" stroke="#262626" stroke-opacity="0.55" stroke-width="0.6"/>
<path d="M307.83 225.80v-2 M307.83 21.40v2 M267.50 59.73h2 M482.60 59.73h-2" stroke="#262626" stroke-opacity="0.7" stroke-width="0.6" fill="none"/>
<text x="307.83" y="242.30" text-anchor="middle" class="t">5</text>
<text x="263.10" y="63.93" text-anchor="end" class="t">5</text>
<path d="M352.64 225.80v-2 M352.64 21.40v2 M267.50 102.31h2 M482.60 102.31h-2" stroke="#262626" stroke-opacity="0.7" stroke-width="0.6" fill="none"/>
<text x="352.64" y="242.30" text-anchor="middle" class="t">10</text>
<text x="263.10" y="106.51" text-anchor="end" class="t">10</text>
<path d="M397.46 225.80v-2 M397.46 21.40v2 M267.50 144.89h2 M482.60 144.89h-2" stroke="#262626" stroke-opacity="0.7" stroke-width="0.6" fill="none"/>
<text x="397.46" y="242.30" text-anchor="middle" class="t">15</text>
<text x="263.10" y="149.09" text-anchor="end" class="t">15</text>
<path d="M442.27 225.80v-2 M442.27 21.40v2 M267.50 187.48h2 M482.60 187.48h-2" stroke="#262626" stroke-opacity="0.7" stroke-width="0.6" fill="none"/>
<text x="442.27" y="242.30" text-anchor="middle" class="t">20</text>
<text x="263.10" y="191.68" text-anchor="end" class="t">20</text>
<defs><linearGradient id="cb" x1="0" y1="0" x2="0" y2="1">
<stop offset="0.0000" stop-color="#f9fb15"/>
<stop offset="0.0159" stop-color="#f7f51b"/>
<stop offset="0.0317" stop-color="#f6ef20"/>
<stop offset="0.0476" stop-color="#f5e924"/>
<stop offset="0.0635" stop-color="#f5e327"/>
<stop offset="0.0794" stop-color="#f7dc2a"/>
<stop offset="0.0952" stop-color="#fad62d"/>
<stop offset="0.1111" stop-color="#fccf30"/>
<stop offset="0.1270" stop-color="#fec934"/>
<stop offset="0.1429" stop-color="#fec338"/>
<stop offset="0.1587" stop-color="#febe3c"/>
<stop offset="0.1746" stop-color="#f8ba3d"/>
<stop offset="0.1905" stop-color="#f0ba36"/>
<stop offset="0.2063" stop-color="#e6bb2d"/>
<stop offset="0.2222" stop-color="#dcbd29"/>
<stop offset="0.2381" stop-color="#d1bf27"/>
<stop offset="0.2540" stop-color="#c5c22a"/>
<stop offset="0.2698" stop-color="#b9c431"/>
<stop offset="0.2857" stop-color="#abc739"/>
<stop offset="0.3016" stop-color="#9dc943"/>
<stop offset="0.3175" stop-color="#8fcb4e"/>
<stop offset="0.3333" stop-color="#81cc59"/>
<stop offset="0.3492" stop-color="#72cd64"/>
<stop offset="0.3651" stop-color="#64cd6f"/>
<stop offset="0.3810" stop-color="#57cc7a"/>
<stop offset="0.3968" stop-color="#4acb84"/>
<stop offset="0.4127" stop-color="#3fca8e"/>
<stop offset="0.4286" stop-color="#37c897"/>
<stop offset="0.4444" stop-color="#31c69f"/>
<stop offset="0.4603" stop-color="#2cc4a7"/>
<stop offset="0.4762" stop-color="#24c1ae"/>
<stop offset="0.4921" stop-color="#19bfb6"/>
<stop offset="0.5079" stop-color="#0bbdbd"/>
<stop offset="0.5238" stop-color="#02bac3"/>
<stop offset="0.5397" stop-color="#01b8ca"/>
<stop offset="0.5556" stop-color="#08b5d0"/>
<stop offset="0.5714" stop-color="#12b1d6"/>
<stop offset="0.5873" stop-color="#18addb"/>
<stop offset="0.6032" stop-color="#1ca9df"/>
<stop offset="0.6190" stop-color="#20a5e3"/>
<stop offset="0.6349" stop-color="#23a0e5"/>
<stop offset="0.6508" stop-color="#259be8"/>
<stop offset="0.6667" stop-color="#2797eb"/>
<stop offset="0.6825" stop-color="#2b91ef"/>
<stop offset="0.6984" stop-color="#2d8cf3"/>
<stop offset="0.7143" stop-color="#2e87f7"/>
<stop offset="0.7302" stop-color="#2f81fa"/>
<stop offset="0.7460" stop-color="#327cfc"/>
<stop offset="0.7619" stop-color="#3875fe"/>
<stop offset="0.7778" stop-color="#3e6fff"/>
<stop offset="0.7937" stop-color="#4269fe"/>
<stop offset="0.8095" stop-color="#4563fd"/>
<stop offset="0.8254" stop-color="#465efb"/>
<stop offset="0.8413" stop-color="#4758f8"/>
<stop offset="0.8571" stop-color="#4852f4"/>
<stop offset="0.8730" stop-color="#484df0"/>
<stop offset="0.8889" stop-color="#4747eb"/>
<stop offset="0.9048" stop-color="#4741e5"/>
<stop offset="0.9206" stop-color="#463cde"/>
<stop offset="0.9365" stop-color="#4537d5"/>
<stop offset="0.9524" stop-color="#4332cb"/>
<stop offset="0.9683" stop-color="#422ec0"/>
<stop offset="0.9841" stop-color="#402ab4"/>
<stop offset="1.0000" stop-color="#3e26a8"/>
</linearGradient></defs>
<rect x="495.00" y="21.60" width="13.90" height="204.80" fill="url(#cb)" stroke="#262626" stroke-opacity="0.55" stroke-width="0.6"/>
<path d="M511.3 21.60h7.1" stroke="#262626" stroke-width="0.8" fill="none"/>
<text x="521.0" y="25.20" class="t">60</text>
<path d="M511.3 47.20h7.1" stroke="#262626" stroke-width="0.8" fill="none"/>
<text x="521.0" y="50.80" class="t">70</text>
<path d="M511.3 72.80h7.1" stroke="#262626" stroke-width="0.8" fill="none"/>
<text x="521.0" y="76.40" class="t">80</text>
<path d="M511.3 98.40h7.1" stroke="#262626" stroke-width="0.8" fill="none"/>
<text x="521.0" y="102.00" class="t">90</text>
<path d="M511.3 124.00h7.1" stroke="#262626" stroke-width="0.8" fill="none"/>
<text x="521.0" y="127.60" class="t">100</text>
<path d="M511.3 149.60h7.1" stroke="#262626" stroke-width="0.8" fill="none"/>
<text x="521.0" y="153.20" class="t">110</text>
<path d="M511.3 175.20h7.1" stroke="#262626" stroke-width="0.8" fill="none"/>
<text x="521.0" y="178.80" class="t">120</text>
<path d="M511.3 200.80h7.1" stroke="#262626" stroke-width="0.8" fill="none"/>
<text x="521.0" y="204.40" class="t">130</text>
<path d="M511.3 226.40h7.1" stroke="#262626" stroke-width="0.8" fill="none"/>
<text x="521.0" y="230.00" class="t">140</text>
</svg>
</body></html>
